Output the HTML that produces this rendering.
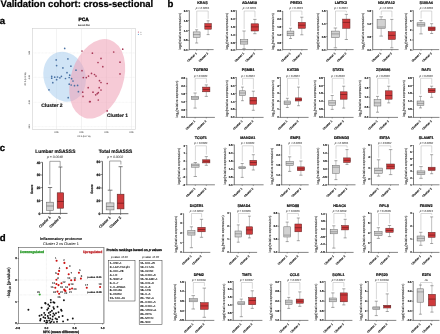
<!DOCTYPE html>
<html><head><meta charset="utf-8"><style>
html,body{margin:0;padding:0;background:#fff;width:440px;height:334px;overflow:hidden}
svg{display:block;will-change:transform}
text{font-family:"Liberation Sans", sans-serif;text-rendering:geometricPrecision}
</style></head><body>
<svg width="440" height="334" viewBox="0 0 440 334">
<rect width="440" height="334" fill="#fff"/>
<text x="0.6" y="7.1" font-size="9.5" text-anchor="start" font-weight="bold" font-style="normal" fill="#000" stroke="#000" stroke-width="0.22" >Validation cohort: cross-sectional</text>
<text x="-0.2" y="24.2" font-size="9.6" text-anchor="start" font-weight="bold" font-style="normal" fill="#000" stroke="#000" stroke-width="0.25" >a</text>
<text x="167.5" y="7.3" font-size="9.6" text-anchor="start" font-weight="bold" font-style="normal" fill="#000" stroke="#000" stroke-width="0.25" >b</text>
<text x="-0.2" y="150.8" font-size="9.6" text-anchor="start" font-weight="bold" font-style="normal" fill="#000" stroke="#000" stroke-width="0.25" >c</text>
<text x="-0.2" y="241" font-size="9.6" text-anchor="start" font-weight="bold" font-style="normal" fill="#000" stroke="#000" stroke-width="0.25" >d</text>
<text x="83.6" y="21.4" font-size="4.9" text-anchor="middle" font-weight="bold" font-style="normal" fill="#000" stroke="#000" stroke-width="0.3" >PCA</text>
<text x="83.8" y="26.1" font-size="2.3" text-anchor="middle" font-weight="normal" font-style="normal" fill="#333" stroke="#333" stroke-width="0.1" >Scores Plot</text>
<rect x="32.3" y="28.5" width="103" height="100.8" fill="#fff" stroke="#cfcfcf" stroke-width="0.6"/>
<line x1="56.5" y1="28.5" x2="56.5" y2="129.3" stroke="#e6e6e6" stroke-width="0.5" />
<line x1="81.5" y1="28.5" x2="81.5" y2="129.3" stroke="#e6e6e6" stroke-width="0.5" />
<line x1="106.5" y1="28.5" x2="106.5" y2="129.3" stroke="#e6e6e6" stroke-width="0.5" />
<line x1="131.5" y1="28.5" x2="131.5" y2="129.3" stroke="#e6e6e6" stroke-width="0.5" />
<line x1="32.3" y1="52.9" x2="135.3" y2="52.9" stroke="#e6e6e6" stroke-width="0.5" stroke-dasharray="0.8 0.6"/>
<line x1="32.3" y1="77.3" x2="135.3" y2="77.3" stroke="#e6e6e6" stroke-width="0.5" stroke-dasharray="0.8 0.6"/>
<line x1="32.3" y1="102.3" x2="135.3" y2="102.3" stroke="#e6e6e6" stroke-width="0.5" stroke-dasharray="0.8 0.6"/>
<line x1="32.3" y1="126.6" x2="135.3" y2="126.6" stroke="#e6e6e6" stroke-width="0.5" stroke-dasharray="0.8 0.6"/>
<ellipse cx="64.6" cy="76.7" rx="20.9" ry="25.4" transform="rotate(-17.8 64.6 76.7)" fill="#a9cdef" fill-opacity="0.55"/>
<ellipse cx="97.2" cy="78.8" rx="26.2" ry="41" transform="rotate(18.4 97.2 78.8)" fill="#ee9fb4" fill-opacity="0.55"/>
<circle cx="64.7" cy="48.4" r="0.85" fill="#4a72a4"/>
<circle cx="56.2" cy="59.9" r="0.85" fill="#4a72a4"/>
<circle cx="67.9" cy="58.9" r="0.85" fill="#4a72a4"/>
<circle cx="56.6" cy="65.6" r="0.85" fill="#4a72a4"/>
<circle cx="62.9" cy="67.9" r="0.85" fill="#4a72a4"/>
<circle cx="70.9" cy="66.2" r="0.85" fill="#4a72a4"/>
<circle cx="67" cy="72.7" r="0.85" fill="#4a72a4"/>
<circle cx="76" cy="70.2" r="0.85" fill="#4a72a4"/>
<circle cx="51.7" cy="76.3" r="0.85" fill="#4a72a4"/>
<circle cx="51.7" cy="78.2" r="0.85" fill="#4a72a4"/>
<circle cx="54.7" cy="77.2" r="0.85" fill="#4a72a4"/>
<circle cx="56.6" cy="79.7" r="0.85" fill="#4a72a4"/>
<circle cx="59.9" cy="77.8" r="0.85" fill="#4a72a4"/>
<circle cx="61.4" cy="76.3" r="0.85" fill="#4a72a4"/>
<circle cx="69.7" cy="75.2" r="0.85" fill="#4a72a4"/>
<circle cx="69.2" cy="77.5" r="0.85" fill="#4a72a4"/>
<circle cx="71.6" cy="78.7" r="0.85" fill="#4a72a4"/>
<circle cx="73" cy="81" r="0.85" fill="#4a72a4"/>
<circle cx="52.8" cy="82.7" r="0.85" fill="#4a72a4"/>
<circle cx="69.2" cy="84.2" r="0.85" fill="#4a72a4"/>
<circle cx="71.2" cy="85" r="0.85" fill="#4a72a4"/>
<circle cx="74.5" cy="85.7" r="0.85" fill="#4a72a4"/>
<circle cx="77.6" cy="85.4" r="0.85" fill="#4a72a4"/>
<circle cx="49" cy="89.8" r="0.85" fill="#4a72a4"/>
<circle cx="78.4" cy="91.7" r="0.85" fill="#4a72a4"/>
<circle cx="68.2" cy="97.7" r="0.85" fill="#4a72a4"/>
<circle cx="57.5" cy="77" r="0.85" fill="#4a72a4"/>
<circle cx="65.5" cy="78.5" r="0.85" fill="#4a72a4"/>
<circle cx="82" cy="51" r="0.85" fill="#a83a58"/>
<circle cx="92.4" cy="53.2" r="0.85" fill="#a83a58"/>
<circle cx="113.7" cy="52" r="0.85" fill="#a83a58"/>
<circle cx="122.7" cy="49.2" r="0.85" fill="#a83a58"/>
<circle cx="101" cy="58.4" r="0.85" fill="#a83a58"/>
<circle cx="98" cy="62.5" r="0.85" fill="#a83a58"/>
<circle cx="102.8" cy="66.7" r="0.85" fill="#a83a58"/>
<circle cx="120" cy="62.2" r="0.85" fill="#a83a58"/>
<circle cx="120" cy="73.9" r="0.85" fill="#a83a58"/>
<circle cx="82" cy="70.7" r="0.85" fill="#a83a58"/>
<circle cx="91.5" cy="73.4" r="0.85" fill="#a83a58"/>
<circle cx="94.5" cy="74.5" r="0.85" fill="#a83a58"/>
<circle cx="96" cy="76.1" r="0.85" fill="#a83a58"/>
<circle cx="88.5" cy="76.1" r="0.85" fill="#a83a58"/>
<circle cx="86.3" cy="77.6" r="0.85" fill="#a83a58"/>
<circle cx="83.3" cy="77.6" r="0.85" fill="#a83a58"/>
<circle cx="99.5" cy="80.7" r="0.85" fill="#a83a58"/>
<circle cx="101" cy="82.5" r="0.85" fill="#a83a58"/>
<circle cx="107.2" cy="83.5" r="0.85" fill="#a83a58"/>
<circle cx="88.2" cy="87.7" r="0.85" fill="#a83a58"/>
<circle cx="99.2" cy="87.7" r="0.85" fill="#a83a58"/>
<circle cx="101" cy="90" r="0.85" fill="#a83a58"/>
<circle cx="93" cy="92.2" r="0.85" fill="#a83a58"/>
<circle cx="95.7" cy="94.8" r="0.85" fill="#a83a58"/>
<circle cx="97.2" cy="93.7" r="0.85" fill="#a83a58"/>
<circle cx="98.3" cy="92.7" r="0.85" fill="#a83a58"/>
<circle cx="82.7" cy="92.2" r="0.85" fill="#a83a58"/>
<circle cx="83" cy="96.4" r="0.85" fill="#a83a58"/>
<circle cx="90.2" cy="101.6" r="0.85" fill="#a83a58"/>
<circle cx="98.3" cy="100" r="0.85" fill="#a83a58"/>
<circle cx="107.2" cy="110.9" r="0.85" fill="#a83a58"/>
<circle cx="89.6" cy="101.7" r="0.85" fill="#a83a58"/>
<text x="41.2" y="107.3" font-size="5" text-anchor="start" font-weight="bold" font-style="normal" fill="#111" stroke="#111" stroke-width="0.15" >Cluster 2</text>
<text x="107" y="116.9" font-size="4.9" text-anchor="start" font-weight="bold" font-style="normal" fill="#111" stroke="#111" stroke-width="0.15" >Cluster 1</text>
<text x="30.4" y="52.9" font-size="2" text-anchor="middle" font-weight="normal" font-style="normal" fill="#666" stroke="#666" stroke-width="0.08"  transform="rotate(-90 30.4 52.9)">0.00</text>
<text x="30.4" y="77.3" font-size="2" text-anchor="middle" font-weight="normal" font-style="normal" fill="#666" stroke="#666" stroke-width="0.08"  transform="rotate(-90 30.4 77.3)">0.00</text>
<text x="30.4" y="102.3" font-size="2" text-anchor="middle" font-weight="normal" font-style="normal" fill="#666" stroke="#666" stroke-width="0.08"  transform="rotate(-90 30.4 102.3)">0.00</text>
<text x="30.4" y="126.6" font-size="2" text-anchor="middle" font-weight="normal" font-style="normal" fill="#666" stroke="#666" stroke-width="0.08"  transform="rotate(-90 30.4 126.6)">0.00</text>
<text x="56.5" y="133.3" font-size="2" text-anchor="middle" font-weight="normal" font-style="normal" fill="#666" stroke="#666" stroke-width="0.08" >0.00</text>
<text x="81.5" y="133.3" font-size="2" text-anchor="middle" font-weight="normal" font-style="normal" fill="#666" stroke="#666" stroke-width="0.08" >0.00</text>
<text x="106.5" y="133.3" font-size="2" text-anchor="middle" font-weight="normal" font-style="normal" fill="#666" stroke="#666" stroke-width="0.08" >0.00</text>
<text x="131.5" y="133.3" font-size="2" text-anchor="middle" font-weight="normal" font-style="normal" fill="#666" stroke="#666" stroke-width="0.08" >0.00</text>
<text x="84" y="137.4" font-size="2.1" text-anchor="middle" font-weight="normal" font-style="normal" fill="#666" stroke="#666" stroke-width="0.08" >PC 1 (13.7 %)</text>
<text x="26.2" y="79" font-size="2.1" text-anchor="middle" font-weight="normal" font-style="normal" fill="#666" stroke="#666" stroke-width="0.08"  transform="rotate(-90 26.2 79)">PC 2 (10.2 %)</text>
<circle cx="138.4" cy="32.1" r="0.6" fill="#d06080"/>
<text x="140.5" y="32.8" font-size="1.6" text-anchor="start" font-weight="normal" font-style="normal" fill="#888" stroke="#888" stroke-width="0.13" >1</text>
<circle cx="138.4" cy="34.3" r="0.6" fill="#60a0d0"/>
<text x="140.5" y="35" font-size="1.6" text-anchor="start" font-weight="normal" font-style="normal" fill="#888" stroke="#888" stroke-width="0.13" >2</text>
<text x="202.4" y="4" font-size="3.7" text-anchor="middle" font-weight="bold" font-style="normal" fill="#111" stroke="#111" stroke-width="0.2" >KRAS</text>
<text x="180.78" y="31.35" font-size="3.45" text-anchor="middle" font-weight="normal" font-style="normal" fill="#333" stroke="#333" stroke-width="0.12"  transform="rotate(-90 180.78 31.35)">log<tspan font-size="2.45" dy="0.7">2</tspan><tspan dy="-0.7">(relative expression)</tspan></text>
<line x1="189.3" y1="10.4" x2="189.3" y2="49.9" stroke="#444" stroke-width="0.7" />
<line x1="189.3" y1="49.6" x2="213.6" y2="49.6" stroke="#666" stroke-width="0.8" />
<line x1="188" y1="10.7" x2="189.3" y2="10.7" stroke="#333" stroke-width="0.5" />
<text x="187.6" y="11.7" font-size="2.75" text-anchor="end" font-weight="bold" font-style="normal" fill="#222" stroke="#222" stroke-width="0.15" >2.0</text>
<line x1="188" y1="20.6" x2="189.3" y2="20.6" stroke="#333" stroke-width="0.5" />
<text x="187.6" y="21.6" font-size="2.75" text-anchor="end" font-weight="bold" font-style="normal" fill="#222" stroke="#222" stroke-width="0.15" >1.5</text>
<line x1="188" y1="30.5" x2="189.3" y2="30.5" stroke="#333" stroke-width="0.5" />
<text x="187.6" y="31.5" font-size="2.75" text-anchor="end" font-weight="bold" font-style="normal" fill="#222" stroke="#222" stroke-width="0.15" >1.0</text>
<line x1="188" y1="40.4" x2="189.3" y2="40.4" stroke="#333" stroke-width="0.5" />
<text x="187.6" y="41.4" font-size="2.75" text-anchor="end" font-weight="bold" font-style="normal" fill="#222" stroke="#222" stroke-width="0.15" >0.5</text>
<line x1="188" y1="50.1" x2="189.3" y2="50.1" stroke="#333" stroke-width="0.5" />
<text x="187.6" y="51.1" font-size="2.75" text-anchor="end" font-weight="bold" font-style="normal" fill="#222" stroke="#222" stroke-width="0.15" >0.0</text>
<polyline points="196.75,27.8 196.75,11 208.2,11 208.2,18.8" fill="none" stroke="#b0b0b0" stroke-width="0.5"/>
<text x="202.47" y="9.25" font-size="2.85" text-anchor="middle" font-weight="normal" font-style="italic" fill="#555" stroke="#555" stroke-width="0.08" >p < 0.0001</text>
<line x1="196.65" y1="29.8" x2="196.65" y2="31.9" stroke="#808080" stroke-width="0.5" />
<line x1="196.65" y1="37.3" x2="196.65" y2="43" stroke="#808080" stroke-width="0.5" />
<line x1="195.13" y1="29.8" x2="198.17" y2="29.8" stroke="#606060" stroke-width="0.55" />
<line x1="195.13" y1="43" x2="198.17" y2="43" stroke="#606060" stroke-width="0.55" />
<rect x="193.2" y="31.9" width="6.9" height="5.4" fill="#d2d2d2" stroke="#666" stroke-width="0.5"/>
<line x1="193.2" y1="34.6" x2="200.1" y2="34.6" stroke="#666" stroke-width="0.5" />
<line x1="196.65" y1="49.6" x2="196.65" y2="50.6" stroke="#333" stroke-width="0.5" />
<text x="197.05" y="53.6" font-size="2.9" text-anchor="end" font-weight="bold" font-style="normal" fill="#222" stroke="#222" stroke-width="0.1"  transform="rotate(-45 197.05 53.6)">Cluster 1</text>
<line x1="208.1" y1="20.8" x2="208.1" y2="23.5" stroke="#808080" stroke-width="0.5" />
<line x1="208.1" y1="29.2" x2="208.1" y2="34.6" stroke="#808080" stroke-width="0.5" />
<line x1="206.65" y1="20.8" x2="209.55" y2="20.8" stroke="#606060" stroke-width="0.55" />
<line x1="206.65" y1="34.6" x2="209.55" y2="34.6" stroke="#606060" stroke-width="0.55" />
<rect x="204.8" y="23.5" width="6.6" height="5.7" fill="#cf3a3c" stroke="#5a2424" stroke-width="0.5"/>
<line x1="204.8" y1="26.5" x2="211.4" y2="26.5" stroke="#4a1010" stroke-width="0.5" />
<line x1="208.1" y1="49.6" x2="208.1" y2="50.6" stroke="#333" stroke-width="0.5" />
<text x="208.5" y="53.6" font-size="2.9" text-anchor="end" font-weight="bold" font-style="normal" fill="#222" stroke="#222" stroke-width="0.1"  transform="rotate(-45 208.5 53.6)">Cluster 2</text>
<text x="249.55" y="4" font-size="3.7" text-anchor="middle" font-weight="bold" font-style="normal" fill="#111" stroke="#111" stroke-width="0.2" >ADAM19</text>
<text x="227.88" y="31.35" font-size="3.45" text-anchor="middle" font-weight="normal" font-style="normal" fill="#333" stroke="#333" stroke-width="0.12"  transform="rotate(-90 227.88 31.35)">log<tspan font-size="2.45" dy="0.7">2</tspan><tspan dy="-0.7">(relative expression)</tspan></text>
<line x1="236.4" y1="10.4" x2="236.4" y2="49.9" stroke="#444" stroke-width="0.7" />
<line x1="236.4" y1="49.6" x2="262.6" y2="49.6" stroke="#666" stroke-width="0.8" />
<line x1="235.1" y1="10.7" x2="236.4" y2="10.7" stroke="#333" stroke-width="0.5" />
<text x="234.7" y="11.7" font-size="2.75" text-anchor="end" font-weight="bold" font-style="normal" fill="#222" stroke="#222" stroke-width="0.15" >2.5</text>
<line x1="235.1" y1="18.8" x2="236.4" y2="18.8" stroke="#333" stroke-width="0.5" />
<text x="234.7" y="19.8" font-size="2.75" text-anchor="end" font-weight="bold" font-style="normal" fill="#222" stroke="#222" stroke-width="0.15" >2.0</text>
<line x1="235.1" y1="26.9" x2="236.4" y2="26.9" stroke="#333" stroke-width="0.5" />
<text x="234.7" y="27.9" font-size="2.75" text-anchor="end" font-weight="bold" font-style="normal" fill="#222" stroke="#222" stroke-width="0.15" >1.5</text>
<line x1="235.1" y1="35" x2="236.4" y2="35" stroke="#333" stroke-width="0.5" />
<text x="234.7" y="36" font-size="2.75" text-anchor="end" font-weight="bold" font-style="normal" fill="#222" stroke="#222" stroke-width="0.15" >1.0</text>
<line x1="235.1" y1="42.7" x2="236.4" y2="42.7" stroke="#333" stroke-width="0.5" />
<text x="234.7" y="43.7" font-size="2.75" text-anchor="end" font-weight="bold" font-style="normal" fill="#222" stroke="#222" stroke-width="0.15" >0.5</text>
<line x1="235.1" y1="50.1" x2="236.4" y2="50.1" stroke="#333" stroke-width="0.5" />
<text x="234.7" y="51.1" font-size="2.75" text-anchor="end" font-weight="bold" font-style="normal" fill="#222" stroke="#222" stroke-width="0.15" >0.0</text>
<polyline points="244.15,29 244.15,11 254.95,11 254.95,17.4" fill="none" stroke="#b0b0b0" stroke-width="0.5"/>
<text x="249.55" y="9.25" font-size="2.85" text-anchor="middle" font-weight="normal" font-style="italic" fill="#555" stroke="#555" stroke-width="0.08" >p < 0.0001</text>
<line x1="244.05" y1="31" x2="244.05" y2="39.6" stroke="#808080" stroke-width="0.5" />
<line x1="244.05" y1="44.1" x2="244.05" y2="48.6" stroke="#808080" stroke-width="0.5" />
<line x1="242.4" y1="31" x2="245.7" y2="31" stroke="#606060" stroke-width="0.55" />
<line x1="242.4" y1="48.6" x2="245.7" y2="48.6" stroke="#606060" stroke-width="0.55" />
<rect x="240.3" y="39.6" width="7.5" height="4.5" fill="#d2d2d2" stroke="#666" stroke-width="0.5"/>
<line x1="240.3" y1="41.8" x2="247.8" y2="41.8" stroke="#666" stroke-width="0.5" />
<line x1="244.05" y1="49.6" x2="244.05" y2="50.6" stroke="#333" stroke-width="0.5" />
<text x="244.45" y="53.6" font-size="2.9" text-anchor="end" font-weight="bold" font-style="normal" fill="#222" stroke="#222" stroke-width="0.1"  transform="rotate(-45 244.45 53.6)">Cluster 1</text>
<line x1="254.85" y1="19.4" x2="254.85" y2="23.8" stroke="#808080" stroke-width="0.5" />
<line x1="254.85" y1="31" x2="254.85" y2="33.7" stroke="#808080" stroke-width="0.5" />
<line x1="253.2" y1="19.4" x2="256.5" y2="19.4" stroke="#606060" stroke-width="0.55" />
<line x1="253.2" y1="33.7" x2="256.5" y2="33.7" stroke="#606060" stroke-width="0.55" />
<rect x="251.1" y="23.8" width="7.5" height="7.2" fill="#cf3a3c" stroke="#5a2424" stroke-width="0.5"/>
<line x1="251.1" y1="26.9" x2="258.6" y2="26.9" stroke="#4a1010" stroke-width="0.5" />
<line x1="254.85" y1="49.6" x2="254.85" y2="50.6" stroke="#333" stroke-width="0.5" />
<text x="255.25" y="53.6" font-size="2.9" text-anchor="end" font-weight="bold" font-style="normal" fill="#222" stroke="#222" stroke-width="0.1"  transform="rotate(-45 255.25 53.6)">Cluster 2</text>
<text x="296.35" y="4" font-size="3.7" text-anchor="middle" font-weight="bold" font-style="normal" fill="#111" stroke="#111" stroke-width="0.2" >PREX1</text>
<text x="274.18" y="31.65" font-size="3.45" text-anchor="middle" font-weight="normal" font-style="normal" fill="#333" stroke="#333" stroke-width="0.12"  transform="rotate(-90 274.18 31.65)">log<tspan font-size="2.45" dy="0.7">2</tspan><tspan dy="-0.7">(relative expression)</tspan></text>
<line x1="282.7" y1="11" x2="282.7" y2="49.9" stroke="#444" stroke-width="0.7" />
<line x1="282.7" y1="49.6" x2="307.7" y2="49.6" stroke="#666" stroke-width="0.8" />
<line x1="281.4" y1="11.3" x2="282.7" y2="11.3" stroke="#333" stroke-width="0.5" />
<text x="281" y="12.3" font-size="2.75" text-anchor="end" font-weight="bold" font-style="normal" fill="#222" stroke="#222" stroke-width="0.15" >2.5</text>
<line x1="281.4" y1="19.1" x2="282.7" y2="19.1" stroke="#333" stroke-width="0.5" />
<text x="281" y="20.1" font-size="2.75" text-anchor="end" font-weight="bold" font-style="normal" fill="#222" stroke="#222" stroke-width="0.15" >2.0</text>
<line x1="281.4" y1="26.8" x2="282.7" y2="26.8" stroke="#333" stroke-width="0.5" />
<text x="281" y="27.8" font-size="2.75" text-anchor="end" font-weight="bold" font-style="normal" fill="#222" stroke="#222" stroke-width="0.15" >1.5</text>
<line x1="281.4" y1="34.8" x2="282.7" y2="34.8" stroke="#333" stroke-width="0.5" />
<text x="281" y="35.8" font-size="2.75" text-anchor="end" font-weight="bold" font-style="normal" fill="#222" stroke="#222" stroke-width="0.15" >1.0</text>
<line x1="281.4" y1="42.8" x2="282.7" y2="42.8" stroke="#333" stroke-width="0.5" />
<text x="281" y="43.8" font-size="2.75" text-anchor="end" font-weight="bold" font-style="normal" fill="#222" stroke="#222" stroke-width="0.15" >0.5</text>
<line x1="281.4" y1="50.2" x2="282.7" y2="50.2" stroke="#333" stroke-width="0.5" />
<text x="281" y="51.2" font-size="2.75" text-anchor="end" font-weight="bold" font-style="normal" fill="#222" stroke="#222" stroke-width="0.15" >0.0</text>
<polyline points="290.6,26.3 290.6,11 301.9,11 301.9,15.2" fill="none" stroke="#b0b0b0" stroke-width="0.5"/>
<text x="296.25" y="9.25" font-size="2.85" text-anchor="middle" font-weight="normal" font-style="italic" fill="#555" stroke="#555" stroke-width="0.08" >p < 0.0001</text>
<line x1="290.5" y1="28.3" x2="290.5" y2="31.1" stroke="#808080" stroke-width="0.5" />
<line x1="290.5" y1="35.8" x2="290.5" y2="38.5" stroke="#808080" stroke-width="0.5" />
<line x1="289" y1="28.3" x2="292" y2="28.3" stroke="#606060" stroke-width="0.55" />
<line x1="289" y1="38.5" x2="292" y2="38.5" stroke="#606060" stroke-width="0.55" />
<rect x="287.1" y="31.1" width="6.8" height="4.7" fill="#d2d2d2" stroke="#666" stroke-width="0.5"/>
<line x1="287.1" y1="33.5" x2="293.9" y2="33.5" stroke="#666" stroke-width="0.5" />
<line x1="290.5" y1="49.6" x2="290.5" y2="50.6" stroke="#333" stroke-width="0.5" />
<text x="290.9" y="53.6" font-size="2.9" text-anchor="end" font-weight="bold" font-style="normal" fill="#222" stroke="#222" stroke-width="0.1"  transform="rotate(-45 290.9 53.6)">Cluster 1</text>
<line x1="301.8" y1="17.2" x2="301.8" y2="22.4" stroke="#808080" stroke-width="0.5" />
<line x1="301.8" y1="28.3" x2="301.8" y2="34.8" stroke="#808080" stroke-width="0.5" />
<line x1="300.22" y1="17.2" x2="303.38" y2="17.2" stroke="#606060" stroke-width="0.55" />
<line x1="300.22" y1="34.8" x2="303.38" y2="34.8" stroke="#606060" stroke-width="0.55" />
<rect x="298.2" y="22.4" width="7.2" height="5.9" fill="#cf3a3c" stroke="#5a2424" stroke-width="0.5"/>
<line x1="298.2" y1="25.2" x2="305.4" y2="25.2" stroke="#4a1010" stroke-width="0.5" />
<line x1="301.8" y1="49.6" x2="301.8" y2="50.6" stroke="#333" stroke-width="0.5" />
<text x="302.2" y="53.6" font-size="2.9" text-anchor="end" font-weight="bold" font-style="normal" fill="#222" stroke="#222" stroke-width="0.1"  transform="rotate(-45 302.2 53.6)">Cluster 2</text>
<text x="340.85" y="4" font-size="3.7" text-anchor="middle" font-weight="bold" font-style="normal" fill="#111" stroke="#111" stroke-width="0.2" >LMTK2</text>
<text x="318.78" y="31.35" font-size="3.45" text-anchor="middle" font-weight="normal" font-style="normal" fill="#333" stroke="#333" stroke-width="0.12"  transform="rotate(-90 318.78 31.35)">log<tspan font-size="2.45" dy="0.7">2</tspan><tspan dy="-0.7">(relative expression)</tspan></text>
<line x1="327.3" y1="10.4" x2="327.3" y2="49.9" stroke="#444" stroke-width="0.7" />
<line x1="327.3" y1="49.6" x2="353.6" y2="49.6" stroke="#666" stroke-width="0.8" />
<line x1="326" y1="10.7" x2="327.3" y2="10.7" stroke="#333" stroke-width="0.5" />
<text x="325.6" y="11.7" font-size="2.75" text-anchor="end" font-weight="bold" font-style="normal" fill="#222" stroke="#222" stroke-width="0.15" >1.5</text>
<line x1="326" y1="23.7" x2="327.3" y2="23.7" stroke="#333" stroke-width="0.5" />
<text x="325.6" y="24.7" font-size="2.75" text-anchor="end" font-weight="bold" font-style="normal" fill="#222" stroke="#222" stroke-width="0.15" >1.0</text>
<line x1="326" y1="36.7" x2="327.3" y2="36.7" stroke="#333" stroke-width="0.5" />
<text x="325.6" y="37.7" font-size="2.75" text-anchor="end" font-weight="bold" font-style="normal" fill="#222" stroke="#222" stroke-width="0.15" >0.5</text>
<line x1="326" y1="50.2" x2="327.3" y2="50.2" stroke="#333" stroke-width="0.5" />
<text x="325.6" y="51.2" font-size="2.75" text-anchor="end" font-weight="bold" font-style="normal" fill="#222" stroke="#222" stroke-width="0.15" >0.0</text>
<polyline points="335.5,26 335.5,11 346.45,11 346.45,12.4" fill="none" stroke="#b0b0b0" stroke-width="0.5"/>
<text x="340.98" y="9.25" font-size="2.85" text-anchor="middle" font-weight="normal" font-style="italic" fill="#555" stroke="#555" stroke-width="0.08" >p < 0.0001</text>
<line x1="335.4" y1="28" x2="335.4" y2="31.1" stroke="#808080" stroke-width="0.5" />
<line x1="335.4" y1="37.6" x2="335.4" y2="47.8" stroke="#808080" stroke-width="0.5" />
<line x1="333.68" y1="28" x2="337.12" y2="28" stroke="#606060" stroke-width="0.55" />
<line x1="333.68" y1="47.8" x2="337.12" y2="47.8" stroke="#606060" stroke-width="0.55" />
<rect x="331.5" y="31.1" width="7.8" height="6.5" fill="#d2d2d2" stroke="#666" stroke-width="0.5"/>
<line x1="331.5" y1="33.9" x2="339.3" y2="33.9" stroke="#666" stroke-width="0.5" />
<line x1="335.4" y1="49.6" x2="335.4" y2="50.6" stroke="#333" stroke-width="0.5" />
<text x="335.8" y="53.6" font-size="2.9" text-anchor="end" font-weight="bold" font-style="normal" fill="#222" stroke="#222" stroke-width="0.1"  transform="rotate(-45 335.8 53.6)">Cluster 1</text>
<line x1="346.35" y1="14.4" x2="346.35" y2="19.1" stroke="#808080" stroke-width="0.5" />
<line x1="346.35" y1="28.3" x2="346.35" y2="39.5" stroke="#808080" stroke-width="0.5" />
<line x1="344.74" y1="14.4" x2="347.96" y2="14.4" stroke="#606060" stroke-width="0.55" />
<line x1="344.74" y1="39.5" x2="347.96" y2="39.5" stroke="#606060" stroke-width="0.55" />
<rect x="342.7" y="19.1" width="7.3" height="9.2" fill="#cf3a3c" stroke="#5a2424" stroke-width="0.5"/>
<line x1="342.7" y1="22.4" x2="350" y2="22.4" stroke="#4a1010" stroke-width="0.5" />
<line x1="346.35" y1="49.6" x2="346.35" y2="50.6" stroke="#333" stroke-width="0.5" />
<text x="346.75" y="53.6" font-size="2.9" text-anchor="end" font-weight="bold" font-style="normal" fill="#222" stroke="#222" stroke-width="0.1"  transform="rotate(-45 346.75 53.6)">Cluster 2</text>
<text x="386.35" y="4" font-size="3.7" text-anchor="middle" font-weight="bold" font-style="normal" fill="#111" stroke="#111" stroke-width="0.2" >NDUFA12</text>
<text x="364.18" y="31.35" font-size="3.45" text-anchor="middle" font-weight="normal" font-style="normal" fill="#333" stroke="#333" stroke-width="0.12"  transform="rotate(-90 364.18 31.35)">log<tspan font-size="2.45" dy="0.7">2</tspan><tspan dy="-0.7">(relative expression)</tspan></text>
<line x1="372.7" y1="10.4" x2="372.7" y2="49.9" stroke="#444" stroke-width="0.7" />
<line x1="372.7" y1="49.6" x2="398.6" y2="49.6" stroke="#666" stroke-width="0.8" />
<line x1="371.4" y1="10.7" x2="372.7" y2="10.7" stroke="#333" stroke-width="0.5" />
<text x="371" y="11.7" font-size="2.75" text-anchor="end" font-weight="bold" font-style="normal" fill="#222" stroke="#222" stroke-width="0.15" >1.5</text>
<line x1="371.4" y1="23.7" x2="372.7" y2="23.7" stroke="#333" stroke-width="0.5" />
<text x="371" y="24.7" font-size="2.75" text-anchor="end" font-weight="bold" font-style="normal" fill="#222" stroke="#222" stroke-width="0.15" >1.0</text>
<line x1="371.4" y1="36.7" x2="372.7" y2="36.7" stroke="#333" stroke-width="0.5" />
<text x="371" y="37.7" font-size="2.75" text-anchor="end" font-weight="bold" font-style="normal" fill="#222" stroke="#222" stroke-width="0.15" >0.5</text>
<line x1="371.4" y1="50.2" x2="372.7" y2="50.2" stroke="#333" stroke-width="0.5" />
<text x="371" y="51.2" font-size="2.75" text-anchor="end" font-weight="bold" font-style="normal" fill="#222" stroke="#222" stroke-width="0.15" >0.0</text>
<polyline points="381.25,14.8 381.25,11 391.9,11 391.9,17.4" fill="none" stroke="#b0b0b0" stroke-width="0.5"/>
<text x="386.57" y="9.25" font-size="2.85" text-anchor="middle" font-weight="normal" font-style="italic" fill="#555" stroke="#555" stroke-width="0.08" >p < 0.0001</text>
<line x1="381.15" y1="16.8" x2="381.15" y2="19.6" stroke="#808080" stroke-width="0.5" />
<line x1="381.15" y1="28.3" x2="381.15" y2="36.1" stroke="#808080" stroke-width="0.5" />
<line x1="379.37" y1="16.8" x2="382.93" y2="16.8" stroke="#606060" stroke-width="0.55" />
<line x1="379.37" y1="36.1" x2="382.93" y2="36.1" stroke="#606060" stroke-width="0.55" />
<rect x="377.1" y="19.6" width="8.1" height="8.7" fill="#d2d2d2" stroke="#666" stroke-width="0.5"/>
<line x1="377.1" y1="27" x2="385.2" y2="27" stroke="#666" stroke-width="0.5" />
<line x1="381.15" y1="49.6" x2="381.15" y2="50.6" stroke="#333" stroke-width="0.5" />
<text x="381.55" y="53.6" font-size="2.9" text-anchor="end" font-weight="bold" font-style="normal" fill="#222" stroke="#222" stroke-width="0.1"  transform="rotate(-45 381.55 53.6)">Cluster 1</text>
<line x1="391.8" y1="19.4" x2="391.8" y2="31.7" stroke="#808080" stroke-width="0.5" />
<line x1="391.8" y1="39.5" x2="391.8" y2="47.8" stroke="#808080" stroke-width="0.5" />
<line x1="390.22" y1="19.4" x2="393.38" y2="19.4" stroke="#606060" stroke-width="0.55" />
<line x1="390.22" y1="47.8" x2="393.38" y2="47.8" stroke="#606060" stroke-width="0.55" />
<rect x="388.2" y="31.7" width="7.2" height="7.8" fill="#cf3a3c" stroke="#5a2424" stroke-width="0.5"/>
<line x1="388.2" y1="35.4" x2="395.4" y2="35.4" stroke="#4a1010" stroke-width="0.5" />
<line x1="391.8" y1="49.6" x2="391.8" y2="50.6" stroke="#333" stroke-width="0.5" />
<text x="392.2" y="53.6" font-size="2.9" text-anchor="end" font-weight="bold" font-style="normal" fill="#222" stroke="#222" stroke-width="0.1"  transform="rotate(-45 392.2 53.6)">Cluster 2</text>
<text x="426.2" y="4" font-size="3.7" text-anchor="middle" font-weight="bold" font-style="normal" fill="#111" stroke="#111" stroke-width="0.2" >S100A4</text>
<text x="407.07" y="31.35" font-size="3.45" text-anchor="middle" font-weight="normal" font-style="normal" fill="#333" stroke="#333" stroke-width="0.12"  transform="rotate(-90 407.07 31.35)">log<tspan font-size="2.45" dy="0.7">2</tspan><tspan dy="-0.7">(relative expression)</tspan></text>
<line x1="413.3" y1="10.4" x2="413.3" y2="49.9" stroke="#444" stroke-width="0.7" />
<line x1="413.3" y1="49.6" x2="439.2" y2="49.6" stroke="#666" stroke-width="0.8" />
<line x1="412" y1="10.7" x2="413.3" y2="10.7" stroke="#333" stroke-width="0.5" />
<text x="411.6" y="11.7" font-size="2.75" text-anchor="end" font-weight="bold" font-style="normal" fill="#222" stroke="#222" stroke-width="0.15" >4</text>
<line x1="412" y1="20.5" x2="413.3" y2="20.5" stroke="#333" stroke-width="0.5" />
<text x="411.6" y="21.5" font-size="2.75" text-anchor="end" font-weight="bold" font-style="normal" fill="#222" stroke="#222" stroke-width="0.15" >3</text>
<line x1="412" y1="30.2" x2="413.3" y2="30.2" stroke="#333" stroke-width="0.5" />
<text x="411.6" y="31.2" font-size="2.75" text-anchor="end" font-weight="bold" font-style="normal" fill="#222" stroke="#222" stroke-width="0.15" >2</text>
<line x1="412" y1="40" x2="413.3" y2="40" stroke="#333" stroke-width="0.5" />
<text x="411.6" y="41" font-size="2.75" text-anchor="end" font-weight="bold" font-style="normal" fill="#222" stroke="#222" stroke-width="0.15" >1</text>
<line x1="412" y1="50.2" x2="413.3" y2="50.2" stroke="#333" stroke-width="0.5" />
<text x="411.6" y="51.2" font-size="2.75" text-anchor="end" font-weight="bold" font-style="normal" fill="#222" stroke="#222" stroke-width="0.15" >0</text>
<polyline points="421.1,18.5 421.1,11 431.75,11 431.75,21.7" fill="none" stroke="#b0b0b0" stroke-width="0.5"/>
<text x="426.43" y="9.25" font-size="2.85" text-anchor="middle" font-weight="normal" font-style="italic" fill="#555" stroke="#555" stroke-width="0.08" >p < 0.0001</text>
<line x1="421" y1="20.5" x2="421" y2="22.8" stroke="#808080" stroke-width="0.5" />
<line x1="421" y1="26.1" x2="421" y2="33.9" stroke="#808080" stroke-width="0.5" />
<line x1="419.28" y1="20.5" x2="422.72" y2="20.5" stroke="#606060" stroke-width="0.55" />
<line x1="419.28" y1="33.9" x2="422.72" y2="33.9" stroke="#606060" stroke-width="0.55" />
<rect x="417.1" y="22.8" width="7.8" height="3.3" fill="#d2d2d2" stroke="#666" stroke-width="0.5"/>
<line x1="417.1" y1="24.6" x2="424.9" y2="24.6" stroke="#666" stroke-width="0.5" />
<line x1="421" y1="49.6" x2="421" y2="50.6" stroke="#333" stroke-width="0.5" />
<text x="421.4" y="53.6" font-size="2.9" text-anchor="end" font-weight="bold" font-style="normal" fill="#222" stroke="#222" stroke-width="0.1"  transform="rotate(-45 421.4 53.6)">Cluster 1</text>
<line x1="431.65" y1="23.7" x2="431.65" y2="27" stroke="#808080" stroke-width="0.5" />
<line x1="431.65" y1="30.7" x2="431.65" y2="33.5" stroke="#808080" stroke-width="0.5" />
<line x1="430.13" y1="23.7" x2="433.17" y2="23.7" stroke="#606060" stroke-width="0.55" />
<line x1="430.13" y1="33.5" x2="433.17" y2="33.5" stroke="#606060" stroke-width="0.55" />
<rect x="428.2" y="27" width="6.9" height="3.7" fill="#cf3a3c" stroke="#5a2424" stroke-width="0.5"/>
<line x1="428.2" y1="28.9" x2="435.1" y2="28.9" stroke="#4a1010" stroke-width="0.5" />
<line x1="431.65" y1="49.6" x2="431.65" y2="50.6" stroke="#333" stroke-width="0.5" />
<text x="432.05" y="53.6" font-size="2.9" text-anchor="end" font-weight="bold" font-style="normal" fill="#222" stroke="#222" stroke-width="0.1"  transform="rotate(-45 432.05 53.6)">Cluster 2</text>
<text x="200.8" y="71.3" font-size="3.7" text-anchor="middle" font-weight="bold" font-style="normal" fill="#111" stroke="#111" stroke-width="0.2" >TGFBR2</text>
<text x="178.28" y="99" font-size="3.45" text-anchor="middle" font-weight="normal" font-style="normal" fill="#333" stroke="#333" stroke-width="0.12"  transform="rotate(-90 178.28 99)">log<tspan font-size="2.45" dy="0.7">2</tspan><tspan dy="-0.7">(relative expression)</tspan></text>
<line x1="186.8" y1="77.9" x2="186.8" y2="117.7" stroke="#444" stroke-width="0.7" />
<line x1="186.8" y1="117.4" x2="214.9" y2="117.4" stroke="#666" stroke-width="0.8" />
<line x1="185.5" y1="78.2" x2="186.8" y2="78.2" stroke="#333" stroke-width="0.5" />
<text x="185.1" y="79.2" font-size="2.75" text-anchor="end" font-weight="bold" font-style="normal" fill="#222" stroke="#222" stroke-width="0.15" >2.5</text>
<line x1="185.5" y1="86.2" x2="186.8" y2="86.2" stroke="#333" stroke-width="0.5" />
<text x="185.1" y="87.2" font-size="2.75" text-anchor="end" font-weight="bold" font-style="normal" fill="#222" stroke="#222" stroke-width="0.15" >2.0</text>
<line x1="185.5" y1="93.6" x2="186.8" y2="93.6" stroke="#333" stroke-width="0.5" />
<text x="185.1" y="94.6" font-size="2.75" text-anchor="end" font-weight="bold" font-style="normal" fill="#222" stroke="#222" stroke-width="0.15" >1.5</text>
<line x1="185.5" y1="101.6" x2="186.8" y2="101.6" stroke="#333" stroke-width="0.5" />
<text x="185.1" y="102.6" font-size="2.75" text-anchor="end" font-weight="bold" font-style="normal" fill="#222" stroke="#222" stroke-width="0.15" >1.0</text>
<line x1="185.5" y1="109.8" x2="186.8" y2="109.8" stroke="#333" stroke-width="0.5" />
<text x="185.1" y="110.8" font-size="2.75" text-anchor="end" font-weight="bold" font-style="normal" fill="#222" stroke="#222" stroke-width="0.15" >0.5</text>
<line x1="185.5" y1="117.4" x2="186.8" y2="117.4" stroke="#333" stroke-width="0.5" />
<text x="185.1" y="118.4" font-size="2.75" text-anchor="end" font-weight="bold" font-style="normal" fill="#222" stroke="#222" stroke-width="0.15" >0.0</text>
<polyline points="195.2,91 195.2,78.3 206.4,78.3 206.4,82.9" fill="none" stroke="#b0b0b0" stroke-width="0.5"/>
<text x="200.8" y="76.55" font-size="2.85" text-anchor="middle" font-weight="normal" font-style="italic" fill="#555" stroke="#555" stroke-width="0.08" >p = 0.0001</text>
<line x1="195.1" y1="93" x2="195.1" y2="96.4" stroke="#808080" stroke-width="0.5" />
<line x1="195.1" y1="99.5" x2="195.1" y2="108.1" stroke="#808080" stroke-width="0.5" />
<line x1="193.52" y1="93" x2="196.68" y2="93" stroke="#606060" stroke-width="0.55" />
<line x1="193.52" y1="108.1" x2="196.68" y2="108.1" stroke="#606060" stroke-width="0.55" />
<rect x="191.5" y="96.4" width="7.2" height="3.1" fill="#d2d2d2" stroke="#666" stroke-width="0.5"/>
<line x1="191.5" y1="97.9" x2="198.7" y2="97.9" stroke="#666" stroke-width="0.5" />
<line x1="195.1" y1="117.4" x2="195.1" y2="118.4" stroke="#333" stroke-width="0.5" />
<text x="195.5" y="121.4" font-size="2.9" text-anchor="end" font-weight="bold" font-style="normal" fill="#222" stroke="#222" stroke-width="0.1"  transform="rotate(-45 195.5 121.4)">Cluster 1</text>
<line x1="206.3" y1="84.9" x2="206.3" y2="87.1" stroke="#808080" stroke-width="0.5" />
<line x1="206.3" y1="91.8" x2="206.3" y2="96.4" stroke="#808080" stroke-width="0.5" />
<line x1="204.72" y1="84.9" x2="207.88" y2="84.9" stroke="#606060" stroke-width="0.55" />
<line x1="204.72" y1="96.4" x2="207.88" y2="96.4" stroke="#606060" stroke-width="0.55" />
<rect x="202.7" y="87.1" width="7.2" height="4.7" fill="#cf3a3c" stroke="#5a2424" stroke-width="0.5"/>
<line x1="202.7" y1="89.5" x2="209.9" y2="89.5" stroke="#4a1010" stroke-width="0.5" />
<line x1="206.3" y1="117.4" x2="206.3" y2="118.4" stroke="#333" stroke-width="0.5" />
<text x="206.7" y="121.4" font-size="2.9" text-anchor="end" font-weight="bold" font-style="normal" fill="#222" stroke="#222" stroke-width="0.1"  transform="rotate(-45 206.7 121.4)">Cluster 2</text>
<text x="248.1" y="71.3" font-size="3.7" text-anchor="middle" font-weight="bold" font-style="normal" fill="#111" stroke="#111" stroke-width="0.2" >PSMB1</text>
<text x="227.78" y="98.65" font-size="3.45" text-anchor="middle" font-weight="normal" font-style="normal" fill="#333" stroke="#333" stroke-width="0.12"  transform="rotate(-90 227.78 98.65)">log<tspan font-size="2.45" dy="0.7">2</tspan><tspan dy="-0.7">(relative expression)</tspan></text>
<line x1="236.3" y1="77.2" x2="236.3" y2="117.7" stroke="#444" stroke-width="0.7" />
<line x1="236.3" y1="117.4" x2="263.6" y2="117.4" stroke="#666" stroke-width="0.8" />
<line x1="235" y1="77.5" x2="236.3" y2="77.5" stroke="#333" stroke-width="0.5" />
<text x="234.6" y="78.5" font-size="2.75" text-anchor="end" font-weight="bold" font-style="normal" fill="#222" stroke="#222" stroke-width="0.15" >2.5</text>
<line x1="235" y1="85.6" x2="236.3" y2="85.6" stroke="#333" stroke-width="0.5" />
<text x="234.6" y="86.6" font-size="2.75" text-anchor="end" font-weight="bold" font-style="normal" fill="#222" stroke="#222" stroke-width="0.15" >2.0</text>
<line x1="235" y1="93.6" x2="236.3" y2="93.6" stroke="#333" stroke-width="0.5" />
<text x="234.6" y="94.6" font-size="2.75" text-anchor="end" font-weight="bold" font-style="normal" fill="#222" stroke="#222" stroke-width="0.15" >1.5</text>
<line x1="235" y1="101.6" x2="236.3" y2="101.6" stroke="#333" stroke-width="0.5" />
<text x="234.6" y="102.6" font-size="2.75" text-anchor="end" font-weight="bold" font-style="normal" fill="#222" stroke="#222" stroke-width="0.15" >1.0</text>
<line x1="235" y1="109.4" x2="236.3" y2="109.4" stroke="#333" stroke-width="0.5" />
<text x="234.6" y="110.4" font-size="2.75" text-anchor="end" font-weight="bold" font-style="normal" fill="#222" stroke="#222" stroke-width="0.15" >0.5</text>
<line x1="235" y1="117.4" x2="236.3" y2="117.4" stroke="#333" stroke-width="0.5" />
<text x="234.6" y="118.4" font-size="2.75" text-anchor="end" font-weight="bold" font-style="normal" fill="#222" stroke="#222" stroke-width="0.15" >0.0</text>
<polyline points="242.55,85.1 242.55,78.3 253.4,78.3 253.4,89.2" fill="none" stroke="#b0b0b0" stroke-width="0.5"/>
<text x="247.98" y="76.55" font-size="2.85" text-anchor="middle" font-weight="normal" font-style="italic" fill="#555" stroke="#555" stroke-width="0.08" >p < 0.0001</text>
<line x1="242.45" y1="87.1" x2="242.45" y2="90.8" stroke="#808080" stroke-width="0.5" />
<line x1="242.45" y1="95.5" x2="242.45" y2="100.7" stroke="#808080" stroke-width="0.5" />
<line x1="241.06" y1="87.1" x2="243.84" y2="87.1" stroke="#606060" stroke-width="0.55" />
<line x1="241.06" y1="100.7" x2="243.84" y2="100.7" stroke="#606060" stroke-width="0.55" />
<rect x="239.3" y="90.8" width="6.3" height="4.7" fill="#d2d2d2" stroke="#666" stroke-width="0.5"/>
<line x1="239.3" y1="93" x2="245.6" y2="93" stroke="#666" stroke-width="0.5" />
<line x1="242.45" y1="117.4" x2="242.45" y2="118.4" stroke="#333" stroke-width="0.5" />
<text x="242.85" y="121.4" font-size="2.9" text-anchor="end" font-weight="bold" font-style="normal" fill="#222" stroke="#222" stroke-width="0.1"  transform="rotate(-45 242.85 121.4)">Cluster 1</text>
<line x1="253.3" y1="91.2" x2="253.3" y2="97.3" stroke="#808080" stroke-width="0.5" />
<line x1="253.3" y1="104.2" x2="253.3" y2="110.3" stroke="#808080" stroke-width="0.5" />
<line x1="251.8" y1="91.2" x2="254.8" y2="91.2" stroke="#606060" stroke-width="0.55" />
<line x1="251.8" y1="110.3" x2="254.8" y2="110.3" stroke="#606060" stroke-width="0.55" />
<rect x="249.9" y="97.3" width="6.8" height="6.9" fill="#cf3a3c" stroke="#5a2424" stroke-width="0.5"/>
<line x1="249.9" y1="100.7" x2="256.7" y2="100.7" stroke="#4a1010" stroke-width="0.5" />
<line x1="253.3" y1="117.4" x2="253.3" y2="118.4" stroke="#333" stroke-width="0.5" />
<text x="253.7" y="121.4" font-size="2.9" text-anchor="end" font-weight="bold" font-style="normal" fill="#222" stroke="#222" stroke-width="0.1"  transform="rotate(-45 253.7 121.4)">Cluster 2</text>
<text x="293" y="71.3" font-size="3.7" text-anchor="middle" font-weight="bold" font-style="normal" fill="#111" stroke="#111" stroke-width="0.2" >KAT2B</text>
<text x="274.17" y="98.65" font-size="3.45" text-anchor="middle" font-weight="normal" font-style="normal" fill="#333" stroke="#333" stroke-width="0.12"  transform="rotate(-90 274.17 98.65)">log<tspan font-size="2.45" dy="0.7">2</tspan><tspan dy="-0.7">(relative expression)</tspan></text>
<line x1="280.4" y1="77.2" x2="280.4" y2="117.7" stroke="#444" stroke-width="0.7" />
<line x1="280.4" y1="117.4" x2="308.6" y2="117.4" stroke="#666" stroke-width="0.8" />
<line x1="279.1" y1="77.5" x2="280.4" y2="77.5" stroke="#333" stroke-width="0.5" />
<text x="278.7" y="78.5" font-size="2.75" text-anchor="end" font-weight="bold" font-style="normal" fill="#222" stroke="#222" stroke-width="0.15" >5</text>
<line x1="279.1" y1="85.5" x2="280.4" y2="85.5" stroke="#333" stroke-width="0.5" />
<text x="278.7" y="86.5" font-size="2.75" text-anchor="end" font-weight="bold" font-style="normal" fill="#222" stroke="#222" stroke-width="0.15" >4</text>
<line x1="279.1" y1="93.4" x2="280.4" y2="93.4" stroke="#333" stroke-width="0.5" />
<text x="278.7" y="94.4" font-size="2.75" text-anchor="end" font-weight="bold" font-style="normal" fill="#222" stroke="#222" stroke-width="0.15" >3</text>
<line x1="279.1" y1="101.4" x2="280.4" y2="101.4" stroke="#333" stroke-width="0.5" />
<text x="278.7" y="102.4" font-size="2.75" text-anchor="end" font-weight="bold" font-style="normal" fill="#222" stroke="#222" stroke-width="0.15" >2</text>
<line x1="279.1" y1="109.4" x2="280.4" y2="109.4" stroke="#333" stroke-width="0.5" />
<text x="278.7" y="110.4" font-size="2.75" text-anchor="end" font-weight="bold" font-style="normal" fill="#222" stroke="#222" stroke-width="0.15" >1</text>
<line x1="279.1" y1="117.4" x2="280.4" y2="117.4" stroke="#333" stroke-width="0.5" />
<text x="278.7" y="118.4" font-size="2.75" text-anchor="end" font-weight="bold" font-style="normal" fill="#222" stroke="#222" stroke-width="0.15" >0</text>
<polyline points="287.45,96.3 287.45,78.3 298.6,78.3 298.6,85.1" fill="none" stroke="#b0b0b0" stroke-width="0.5"/>
<text x="293.02" y="76.55" font-size="2.85" text-anchor="middle" font-weight="normal" font-style="italic" fill="#555" stroke="#555" stroke-width="0.08" >p < 0.0001</text>
<line x1="287.35" y1="98.3" x2="287.35" y2="101" stroke="#808080" stroke-width="0.5" />
<line x1="287.35" y1="104.7" x2="287.35" y2="107.5" stroke="#808080" stroke-width="0.5" />
<line x1="285.92" y1="98.3" x2="288.78" y2="98.3" stroke="#606060" stroke-width="0.55" />
<line x1="285.92" y1="107.5" x2="288.78" y2="107.5" stroke="#606060" stroke-width="0.55" />
<rect x="284.1" y="101" width="6.5" height="3.7" fill="#d2d2d2" stroke="#666" stroke-width="0.5"/>
<line x1="284.1" y1="102.9" x2="290.6" y2="102.9" stroke="#666" stroke-width="0.5" />
<line x1="287.35" y1="117.4" x2="287.35" y2="118.4" stroke="#333" stroke-width="0.5" />
<text x="287.75" y="121.4" font-size="2.9" text-anchor="end" font-weight="bold" font-style="normal" fill="#222" stroke="#222" stroke-width="0.1"  transform="rotate(-45 287.75 121.4)">Cluster 1</text>
<line x1="298.5" y1="87.1" x2="298.5" y2="97.9" stroke="#808080" stroke-width="0.5" />
<line x1="298.5" y1="101" x2="298.5" y2="105.7" stroke="#808080" stroke-width="0.5" />
<line x1="297.09" y1="87.1" x2="299.91" y2="87.1" stroke="#606060" stroke-width="0.55" />
<line x1="297.09" y1="105.7" x2="299.91" y2="105.7" stroke="#606060" stroke-width="0.55" />
<rect x="295.3" y="97.9" width="6.4" height="3.1" fill="#cf3a3c" stroke="#5a2424" stroke-width="0.5"/>
<line x1="295.3" y1="99.5" x2="301.7" y2="99.5" stroke="#4a1010" stroke-width="0.5" />
<line x1="298.5" y1="117.4" x2="298.5" y2="118.4" stroke="#333" stroke-width="0.5" />
<text x="298.9" y="121.4" font-size="2.9" text-anchor="end" font-weight="bold" font-style="normal" fill="#222" stroke="#222" stroke-width="0.1"  transform="rotate(-45 298.9 121.4)">Cluster 2</text>
<text x="338.05" y="71.3" font-size="3.7" text-anchor="middle" font-weight="bold" font-style="normal" fill="#111" stroke="#111" stroke-width="0.2" >STAT4</text>
<text x="315.98" y="98.65" font-size="3.45" text-anchor="middle" font-weight="normal" font-style="normal" fill="#333" stroke="#333" stroke-width="0.12"  transform="rotate(-90 315.98 98.65)">log<tspan font-size="2.45" dy="0.7">2</tspan><tspan dy="-0.7">(relative expression)</tspan></text>
<line x1="324.5" y1="77.2" x2="324.5" y2="117.7" stroke="#444" stroke-width="0.7" />
<line x1="324.5" y1="117.4" x2="353.6" y2="117.4" stroke="#666" stroke-width="0.8" />
<line x1="323.2" y1="77.5" x2="324.5" y2="77.5" stroke="#333" stroke-width="0.5" />
<text x="322.8" y="78.5" font-size="2.75" text-anchor="end" font-weight="bold" font-style="normal" fill="#222" stroke="#222" stroke-width="0.15" >2.5</text>
<line x1="323.2" y1="85.5" x2="324.5" y2="85.5" stroke="#333" stroke-width="0.5" />
<text x="322.8" y="86.5" font-size="2.75" text-anchor="end" font-weight="bold" font-style="normal" fill="#222" stroke="#222" stroke-width="0.15" >2.0</text>
<line x1="323.2" y1="93.4" x2="324.5" y2="93.4" stroke="#333" stroke-width="0.5" />
<text x="322.8" y="94.4" font-size="2.75" text-anchor="end" font-weight="bold" font-style="normal" fill="#222" stroke="#222" stroke-width="0.15" >1.5</text>
<line x1="323.2" y1="101.4" x2="324.5" y2="101.4" stroke="#333" stroke-width="0.5" />
<text x="322.8" y="102.4" font-size="2.75" text-anchor="end" font-weight="bold" font-style="normal" fill="#222" stroke="#222" stroke-width="0.15" >1.0</text>
<line x1="323.2" y1="109.4" x2="324.5" y2="109.4" stroke="#333" stroke-width="0.5" />
<text x="322.8" y="110.4" font-size="2.75" text-anchor="end" font-weight="bold" font-style="normal" fill="#222" stroke="#222" stroke-width="0.15" >0.5</text>
<line x1="323.2" y1="117.4" x2="324.5" y2="117.4" stroke="#333" stroke-width="0.5" />
<text x="322.8" y="118.4" font-size="2.75" text-anchor="end" font-weight="bold" font-style="normal" fill="#222" stroke="#222" stroke-width="0.15" >0.0</text>
<polyline points="332.3,93.5 332.3,78.3 343.8,78.3 343.8,84.2" fill="none" stroke="#b0b0b0" stroke-width="0.5"/>
<text x="338.05" y="76.55" font-size="2.85" text-anchor="middle" font-weight="normal" font-style="italic" fill="#555" stroke="#555" stroke-width="0.08" >p < 0.0001</text>
<line x1="332.2" y1="95.5" x2="332.2" y2="100.7" stroke="#808080" stroke-width="0.5" />
<line x1="332.2" y1="105.3" x2="332.2" y2="109.4" stroke="#808080" stroke-width="0.5" />
<line x1="330.7" y1="95.5" x2="333.7" y2="95.5" stroke="#606060" stroke-width="0.55" />
<line x1="330.7" y1="109.4" x2="333.7" y2="109.4" stroke="#606060" stroke-width="0.55" />
<rect x="328.8" y="100.7" width="6.8" height="4.6" fill="#d2d2d2" stroke="#666" stroke-width="0.5"/>
<line x1="328.8" y1="102.9" x2="335.6" y2="102.9" stroke="#666" stroke-width="0.5" />
<line x1="332.2" y1="117.4" x2="332.2" y2="118.4" stroke="#333" stroke-width="0.5" />
<text x="332.6" y="121.4" font-size="2.9" text-anchor="end" font-weight="bold" font-style="normal" fill="#222" stroke="#222" stroke-width="0.1"  transform="rotate(-45 332.6 121.4)">Cluster 1</text>
<line x1="343.7" y1="86.2" x2="343.7" y2="91.8" stroke="#808080" stroke-width="0.5" />
<line x1="343.7" y1="99.2" x2="343.7" y2="108.1" stroke="#808080" stroke-width="0.5" />
<line x1="342.2" y1="86.2" x2="345.2" y2="86.2" stroke="#606060" stroke-width="0.55" />
<line x1="342.2" y1="108.1" x2="345.2" y2="108.1" stroke="#606060" stroke-width="0.55" />
<rect x="340.3" y="91.8" width="6.8" height="7.4" fill="#cf3a3c" stroke="#5a2424" stroke-width="0.5"/>
<line x1="340.3" y1="94.5" x2="347.1" y2="94.5" stroke="#4a1010" stroke-width="0.5" />
<line x1="343.7" y1="117.4" x2="343.7" y2="118.4" stroke="#333" stroke-width="0.5" />
<text x="344.1" y="121.4" font-size="2.9" text-anchor="end" font-weight="bold" font-style="normal" fill="#222" stroke="#222" stroke-width="0.1"  transform="rotate(-45 344.1 121.4)">Cluster 2</text>
<text x="383.2" y="71.3" font-size="3.7" text-anchor="middle" font-weight="bold" font-style="normal" fill="#111" stroke="#111" stroke-width="0.2" >ZSWIM6</text>
<text x="361.48" y="98.65" font-size="3.45" text-anchor="middle" font-weight="normal" font-style="normal" fill="#333" stroke="#333" stroke-width="0.12"  transform="rotate(-90 361.48 98.65)">log<tspan font-size="2.45" dy="0.7">2</tspan><tspan dy="-0.7">(relative expression)</tspan></text>
<line x1="370" y1="77.2" x2="370" y2="117.7" stroke="#444" stroke-width="0.7" />
<line x1="370" y1="117.4" x2="398" y2="117.4" stroke="#666" stroke-width="0.8" />
<line x1="368.7" y1="77.5" x2="370" y2="77.5" stroke="#333" stroke-width="0.5" />
<text x="368.3" y="78.5" font-size="2.75" text-anchor="end" font-weight="bold" font-style="normal" fill="#222" stroke="#222" stroke-width="0.15" >2.0</text>
<line x1="368.7" y1="87.5" x2="370" y2="87.5" stroke="#333" stroke-width="0.5" />
<text x="368.3" y="88.5" font-size="2.75" text-anchor="end" font-weight="bold" font-style="normal" fill="#222" stroke="#222" stroke-width="0.15" >1.5</text>
<line x1="368.7" y1="97.3" x2="370" y2="97.3" stroke="#333" stroke-width="0.5" />
<text x="368.3" y="98.3" font-size="2.75" text-anchor="end" font-weight="bold" font-style="normal" fill="#222" stroke="#222" stroke-width="0.15" >1.0</text>
<line x1="368.7" y1="107.2" x2="370" y2="107.2" stroke="#333" stroke-width="0.5" />
<text x="368.3" y="108.2" font-size="2.75" text-anchor="end" font-weight="bold" font-style="normal" fill="#222" stroke="#222" stroke-width="0.15" >0.5</text>
<line x1="368.7" y1="117.4" x2="370" y2="117.4" stroke="#333" stroke-width="0.5" />
<text x="368.3" y="118.4" font-size="2.75" text-anchor="end" font-weight="bold" font-style="normal" fill="#222" stroke="#222" stroke-width="0.15" >0.0</text>
<polyline points="377.6,94.4 377.6,78.3 388.8,78.3 388.8,84.2" fill="none" stroke="#b0b0b0" stroke-width="0.5"/>
<text x="383.2" y="76.55" font-size="2.85" text-anchor="middle" font-weight="normal" font-style="italic" fill="#555" stroke="#555" stroke-width="0.08" >p < 0.0001</text>
<line x1="377.5" y1="96.4" x2="377.5" y2="99.7" stroke="#808080" stroke-width="0.5" />
<line x1="377.5" y1="106" x2="377.5" y2="112.2" stroke="#808080" stroke-width="0.5" />
<line x1="376" y1="96.4" x2="379" y2="96.4" stroke="#606060" stroke-width="0.55" />
<line x1="376" y1="112.2" x2="379" y2="112.2" stroke="#606060" stroke-width="0.55" />
<rect x="374.1" y="99.7" width="6.8" height="6.3" fill="#d2d2d2" stroke="#666" stroke-width="0.5"/>
<line x1="374.1" y1="102.9" x2="380.9" y2="102.9" stroke="#666" stroke-width="0.5" />
<line x1="377.5" y1="117.4" x2="377.5" y2="118.4" stroke="#333" stroke-width="0.5" />
<text x="377.9" y="121.4" font-size="2.9" text-anchor="end" font-weight="bold" font-style="normal" fill="#222" stroke="#222" stroke-width="0.1"  transform="rotate(-45 377.9 121.4)">Cluster 1</text>
<line x1="388.7" y1="86.2" x2="388.7" y2="90.8" stroke="#808080" stroke-width="0.5" />
<line x1="388.7" y1="99.2" x2="388.7" y2="102.9" stroke="#808080" stroke-width="0.5" />
<line x1="387.2" y1="86.2" x2="390.2" y2="86.2" stroke="#606060" stroke-width="0.55" />
<line x1="387.2" y1="102.9" x2="390.2" y2="102.9" stroke="#606060" stroke-width="0.55" />
<rect x="385.3" y="90.8" width="6.8" height="8.4" fill="#cf3a3c" stroke="#5a2424" stroke-width="0.5"/>
<line x1="385.3" y1="95.5" x2="392.1" y2="95.5" stroke="#4a1010" stroke-width="0.5" />
<line x1="388.7" y1="117.4" x2="388.7" y2="118.4" stroke="#333" stroke-width="0.5" />
<text x="389.1" y="121.4" font-size="2.9" text-anchor="end" font-weight="bold" font-style="normal" fill="#222" stroke="#222" stroke-width="0.1"  transform="rotate(-45 389.1 121.4)">Cluster 2</text>
<text x="426.2" y="71.3" font-size="3.7" text-anchor="middle" font-weight="bold" font-style="normal" fill="#111" stroke="#111" stroke-width="0.2" >RAF1</text>
<text x="404.98" y="98.65" font-size="3.45" text-anchor="middle" font-weight="normal" font-style="normal" fill="#333" stroke="#333" stroke-width="0.12"  transform="rotate(-90 404.98 98.65)">log<tspan font-size="2.45" dy="0.7">2</tspan><tspan dy="-0.7">(relative expression)</tspan></text>
<line x1="413.5" y1="77.2" x2="413.5" y2="117.7" stroke="#444" stroke-width="0.7" />
<line x1="413.5" y1="117.4" x2="439.5" y2="117.4" stroke="#666" stroke-width="0.8" />
<line x1="412.2" y1="77.5" x2="413.5" y2="77.5" stroke="#333" stroke-width="0.5" />
<text x="411.8" y="78.5" font-size="2.75" text-anchor="end" font-weight="bold" font-style="normal" fill="#222" stroke="#222" stroke-width="0.15" >2.5</text>
<line x1="412.2" y1="85.5" x2="413.5" y2="85.5" stroke="#333" stroke-width="0.5" />
<text x="411.8" y="86.5" font-size="2.75" text-anchor="end" font-weight="bold" font-style="normal" fill="#222" stroke="#222" stroke-width="0.15" >2.0</text>
<line x1="412.2" y1="93.4" x2="413.5" y2="93.4" stroke="#333" stroke-width="0.5" />
<text x="411.8" y="94.4" font-size="2.75" text-anchor="end" font-weight="bold" font-style="normal" fill="#222" stroke="#222" stroke-width="0.15" >1.5</text>
<line x1="412.2" y1="101.4" x2="413.5" y2="101.4" stroke="#333" stroke-width="0.5" />
<text x="411.8" y="102.4" font-size="2.75" text-anchor="end" font-weight="bold" font-style="normal" fill="#222" stroke="#222" stroke-width="0.15" >1.0</text>
<line x1="412.2" y1="109.4" x2="413.5" y2="109.4" stroke="#333" stroke-width="0.5" />
<text x="411.8" y="110.4" font-size="2.75" text-anchor="end" font-weight="bold" font-style="normal" fill="#222" stroke="#222" stroke-width="0.15" >0.5</text>
<line x1="412.2" y1="117.4" x2="413.5" y2="117.4" stroke="#333" stroke-width="0.5" />
<text x="411.8" y="118.4" font-size="2.75" text-anchor="end" font-weight="bold" font-style="normal" fill="#222" stroke="#222" stroke-width="0.15" >0.0</text>
<polyline points="420.6,94.4 420.6,78.3 431.75,78.3 431.75,84.2" fill="none" stroke="#b0b0b0" stroke-width="0.5"/>
<text x="426.18" y="76.55" font-size="2.85" text-anchor="middle" font-weight="normal" font-style="italic" fill="#555" stroke="#555" stroke-width="0.08" >p < 0.0001</text>
<line x1="420.5" y1="96.4" x2="420.5" y2="101" stroke="#808080" stroke-width="0.5" />
<line x1="420.5" y1="105.3" x2="420.5" y2="107.9" stroke="#808080" stroke-width="0.5" />
<line x1="419" y1="96.4" x2="422" y2="96.4" stroke="#606060" stroke-width="0.55" />
<line x1="419" y1="107.9" x2="422" y2="107.9" stroke="#606060" stroke-width="0.55" />
<rect x="417.1" y="101" width="6.8" height="4.3" fill="#d2d2d2" stroke="#666" stroke-width="0.5"/>
<line x1="417.1" y1="103.4" x2="423.9" y2="103.4" stroke="#666" stroke-width="0.5" />
<line x1="420.5" y1="117.4" x2="420.5" y2="118.4" stroke="#333" stroke-width="0.5" />
<text x="420.9" y="121.4" font-size="2.9" text-anchor="end" font-weight="bold" font-style="normal" fill="#222" stroke="#222" stroke-width="0.1"  transform="rotate(-45 420.9 121.4)">Cluster 1</text>
<line x1="431.65" y1="86.2" x2="431.65" y2="88.6" stroke="#808080" stroke-width="0.5" />
<line x1="431.65" y1="92.7" x2="431.65" y2="97.3" stroke="#808080" stroke-width="0.5" />
<line x1="430.13" y1="86.2" x2="433.17" y2="86.2" stroke="#606060" stroke-width="0.55" />
<line x1="430.13" y1="97.3" x2="433.17" y2="97.3" stroke="#606060" stroke-width="0.55" />
<rect x="428.2" y="88.6" width="6.9" height="4.1" fill="#cf3a3c" stroke="#5a2424" stroke-width="0.5"/>
<line x1="428.2" y1="90.5" x2="435.1" y2="90.5" stroke="#4a1010" stroke-width="0.5" />
<line x1="431.65" y1="117.4" x2="431.65" y2="118.4" stroke="#333" stroke-width="0.5" />
<text x="432.05" y="121.4" font-size="2.9" text-anchor="end" font-weight="bold" font-style="normal" fill="#222" stroke="#222" stroke-width="0.1"  transform="rotate(-45 432.05 121.4)">Cluster 2</text>
<text x="200.8" y="138.8" font-size="3.7" text-anchor="middle" font-weight="bold" font-style="normal" fill="#111" stroke="#111" stroke-width="0.2" >TCOF1</text>
<text x="179.66" y="166.35" font-size="3.45" text-anchor="middle" font-weight="normal" font-style="normal" fill="#333" stroke="#333" stroke-width="0.12"  transform="rotate(-90 179.66 166.35)">log<tspan font-size="2.45" dy="0.7">2</tspan><tspan dy="-0.7">(relative expression)</tspan></text>
<line x1="186.8" y1="145.2" x2="186.8" y2="185.1" stroke="#444" stroke-width="0.7" />
<line x1="186.8" y1="184.8" x2="214.9" y2="184.8" stroke="#666" stroke-width="0.8" />
<line x1="185.5" y1="145.5" x2="186.8" y2="145.5" stroke="#333" stroke-width="0.5" />
<text x="185.1" y="146.5" font-size="2.75" text-anchor="end" font-weight="bold" font-style="normal" fill="#222" stroke="#222" stroke-width="0.15" >2</text>
<line x1="185.5" y1="153.3" x2="186.8" y2="153.3" stroke="#333" stroke-width="0.5" />
<text x="185.1" y="154.3" font-size="2.75" text-anchor="end" font-weight="bold" font-style="normal" fill="#222" stroke="#222" stroke-width="0.15" >1</text>
<line x1="185.5" y1="161.2" x2="186.8" y2="161.2" stroke="#333" stroke-width="0.5" />
<text x="185.1" y="162.2" font-size="2.75" text-anchor="end" font-weight="bold" font-style="normal" fill="#222" stroke="#222" stroke-width="0.15" >0</text>
<line x1="185.5" y1="169" x2="186.8" y2="169" stroke="#333" stroke-width="0.5" />
<text x="185.1" y="170" font-size="2.75" text-anchor="end" font-weight="bold" font-style="normal" fill="#222" stroke="#222" stroke-width="0.15" >-1</text>
<line x1="185.5" y1="177" x2="186.8" y2="177" stroke="#333" stroke-width="0.5" />
<text x="185.1" y="178" font-size="2.75" text-anchor="end" font-weight="bold" font-style="normal" fill="#222" stroke="#222" stroke-width="0.15" >-2</text>
<line x1="185.5" y1="184.8" x2="186.8" y2="184.8" stroke="#333" stroke-width="0.5" />
<text x="185.1" y="185.8" font-size="2.75" text-anchor="end" font-weight="bold" font-style="normal" fill="#222" stroke="#222" stroke-width="0.15" >-3</text>
<polyline points="195.4,160.5 195.4,145.8 206.4,145.8 206.4,154.6" fill="none" stroke="#b0b0b0" stroke-width="0.5"/>
<text x="200.9" y="144.05" font-size="2.85" text-anchor="middle" font-weight="normal" font-style="italic" fill="#555" stroke="#555" stroke-width="0.08" >p < 0.0001</text>
<line x1="195.3" y1="162.5" x2="195.3" y2="164" stroke="#808080" stroke-width="0.5" />
<line x1="195.3" y1="167.2" x2="195.3" y2="176.5" stroke="#808080" stroke-width="0.5" />
<line x1="193.63" y1="162.5" x2="196.97" y2="162.5" stroke="#606060" stroke-width="0.55" />
<line x1="193.63" y1="176.5" x2="196.97" y2="176.5" stroke="#606060" stroke-width="0.55" />
<rect x="191.5" y="164" width="7.6" height="3.2" fill="#d2d2d2" stroke="#666" stroke-width="0.5"/>
<line x1="191.5" y1="165.3" x2="199.1" y2="165.3" stroke="#666" stroke-width="0.5" />
<line x1="195.3" y1="184.8" x2="195.3" y2="185.8" stroke="#333" stroke-width="0.5" />
<text x="195.7" y="188.8" font-size="2.9" text-anchor="end" font-weight="bold" font-style="normal" fill="#222" stroke="#222" stroke-width="0.1"  transform="rotate(-45 195.7 188.8)">Cluster 1</text>
<line x1="206.3" y1="156.6" x2="206.3" y2="159.8" stroke="#808080" stroke-width="0.5" />
<line x1="206.3" y1="162.9" x2="206.3" y2="165.3" stroke="#808080" stroke-width="0.5" />
<line x1="204.72" y1="156.6" x2="207.88" y2="156.6" stroke="#606060" stroke-width="0.55" />
<line x1="204.72" y1="165.3" x2="207.88" y2="165.3" stroke="#606060" stroke-width="0.55" />
<rect x="202.7" y="159.8" width="7.2" height="3.1" fill="#cf3a3c" stroke="#5a2424" stroke-width="0.5"/>
<line x1="202.7" y1="161.2" x2="209.9" y2="161.2" stroke="#4a1010" stroke-width="0.5" />
<line x1="206.3" y1="184.8" x2="206.3" y2="185.8" stroke="#333" stroke-width="0.5" />
<text x="206.7" y="188.8" font-size="2.9" text-anchor="end" font-weight="bold" font-style="normal" fill="#222" stroke="#222" stroke-width="0.1"  transform="rotate(-45 206.7 188.8)">Cluster 2</text>
<text x="247.85" y="138.8" font-size="3.7" text-anchor="middle" font-weight="bold" font-style="normal" fill="#111" stroke="#111" stroke-width="0.2" >MAN2A1</text>
<text x="225.78" y="166.05" font-size="3.45" text-anchor="middle" font-weight="normal" font-style="normal" fill="#333" stroke="#333" stroke-width="0.12"  transform="rotate(-90 225.78 166.05)">log<tspan font-size="2.45" dy="0.7">2</tspan><tspan dy="-0.7">(relative expression)</tspan></text>
<line x1="234.3" y1="144.6" x2="234.3" y2="185.1" stroke="#444" stroke-width="0.7" />
<line x1="234.3" y1="184.8" x2="263.6" y2="184.8" stroke="#666" stroke-width="0.8" />
<line x1="233" y1="144.9" x2="234.3" y2="144.9" stroke="#333" stroke-width="0.5" />
<text x="232.6" y="145.9" font-size="2.75" text-anchor="end" font-weight="bold" font-style="normal" fill="#222" stroke="#222" stroke-width="0.15" >2.5</text>
<line x1="233" y1="153.3" x2="234.3" y2="153.3" stroke="#333" stroke-width="0.5" />
<text x="232.6" y="154.3" font-size="2.75" text-anchor="end" font-weight="bold" font-style="normal" fill="#222" stroke="#222" stroke-width="0.15" >2.0</text>
<line x1="233" y1="161.2" x2="234.3" y2="161.2" stroke="#333" stroke-width="0.5" />
<text x="232.6" y="162.2" font-size="2.75" text-anchor="end" font-weight="bold" font-style="normal" fill="#222" stroke="#222" stroke-width="0.15" >1.5</text>
<line x1="233" y1="169.4" x2="234.3" y2="169.4" stroke="#333" stroke-width="0.5" />
<text x="232.6" y="170.4" font-size="2.75" text-anchor="end" font-weight="bold" font-style="normal" fill="#222" stroke="#222" stroke-width="0.15" >1.0</text>
<line x1="233" y1="177.4" x2="234.3" y2="177.4" stroke="#333" stroke-width="0.5" />
<text x="232.6" y="178.4" font-size="2.75" text-anchor="end" font-weight="bold" font-style="normal" fill="#222" stroke="#222" stroke-width="0.15" >0.5</text>
<line x1="233" y1="184.8" x2="234.3" y2="184.8" stroke="#333" stroke-width="0.5" />
<text x="232.6" y="185.8" font-size="2.75" text-anchor="end" font-weight="bold" font-style="normal" fill="#222" stroke="#222" stroke-width="0.15" >0.0</text>
<polyline points="242.3,161.5 242.3,145.8 253.4,145.8 253.4,152.7" fill="none" stroke="#b0b0b0" stroke-width="0.5"/>
<text x="247.85" y="144.05" font-size="2.85" text-anchor="middle" font-weight="normal" font-style="italic" fill="#555" stroke="#555" stroke-width="0.08" >p < 0.0001</text>
<line x1="242.2" y1="163.5" x2="242.2" y2="166.8" stroke="#808080" stroke-width="0.5" />
<line x1="242.2" y1="168.7" x2="242.2" y2="177.4" stroke="#808080" stroke-width="0.5" />
<line x1="240.7" y1="163.5" x2="243.7" y2="163.5" stroke="#606060" stroke-width="0.55" />
<line x1="240.7" y1="177.4" x2="243.7" y2="177.4" stroke="#606060" stroke-width="0.55" />
<rect x="238.8" y="166.8" width="6.8" height="1.9" fill="#d2d2d2" stroke="#666" stroke-width="0.5"/>
<line x1="238.8" y1="167.7" x2="245.6" y2="167.7" stroke="#666" stroke-width="0.5" />
<line x1="242.2" y1="184.8" x2="242.2" y2="185.8" stroke="#333" stroke-width="0.5" />
<text x="242.6" y="188.8" font-size="2.9" text-anchor="end" font-weight="bold" font-style="normal" fill="#222" stroke="#222" stroke-width="0.1"  transform="rotate(-45 242.6 188.8)">Cluster 1</text>
<line x1="253.3" y1="154.7" x2="253.3" y2="160.3" stroke="#808080" stroke-width="0.5" />
<line x1="253.3" y1="165.3" x2="253.3" y2="170" stroke="#808080" stroke-width="0.5" />
<line x1="251.8" y1="154.7" x2="254.8" y2="154.7" stroke="#606060" stroke-width="0.55" />
<line x1="251.8" y1="170" x2="254.8" y2="170" stroke="#606060" stroke-width="0.55" />
<rect x="249.9" y="160.3" width="6.8" height="5" fill="#cf3a3c" stroke="#5a2424" stroke-width="0.5"/>
<line x1="249.9" y1="162.5" x2="256.7" y2="162.5" stroke="#4a1010" stroke-width="0.5" />
<line x1="253.3" y1="184.8" x2="253.3" y2="185.8" stroke="#333" stroke-width="0.5" />
<text x="253.7" y="188.8" font-size="2.9" text-anchor="end" font-weight="bold" font-style="normal" fill="#222" stroke="#222" stroke-width="0.1"  transform="rotate(-45 253.7 188.8)">Cluster 2</text>
<text x="295.35" y="138.8" font-size="3.7" text-anchor="middle" font-weight="bold" font-style="normal" fill="#111" stroke="#111" stroke-width="0.2" >EMP3</text>
<text x="273.18" y="166.2" font-size="3.45" text-anchor="middle" font-weight="normal" font-style="normal" fill="#333" stroke="#333" stroke-width="0.12"  transform="rotate(-90 273.18 166.2)">log<tspan font-size="2.45" dy="0.7">2</tspan><tspan dy="-0.7">(relative expression)</tspan></text>
<line x1="281.7" y1="144.9" x2="281.7" y2="185.1" stroke="#444" stroke-width="0.7" />
<line x1="281.7" y1="184.8" x2="308.7" y2="184.8" stroke="#666" stroke-width="0.8" />
<line x1="280.4" y1="145.2" x2="281.7" y2="145.2" stroke="#333" stroke-width="0.5" />
<text x="280" y="146.2" font-size="2.75" text-anchor="end" font-weight="bold" font-style="normal" fill="#222" stroke="#222" stroke-width="0.15" >2.5</text>
<line x1="280.4" y1="155" x2="281.7" y2="155" stroke="#333" stroke-width="0.5" />
<text x="280" y="156" font-size="2.75" text-anchor="end" font-weight="bold" font-style="normal" fill="#222" stroke="#222" stroke-width="0.15" >2.0</text>
<line x1="280.4" y1="165.1" x2="281.7" y2="165.1" stroke="#333" stroke-width="0.5" />
<text x="280" y="166.1" font-size="2.75" text-anchor="end" font-weight="bold" font-style="normal" fill="#222" stroke="#222" stroke-width="0.15" >1.5</text>
<line x1="280.4" y1="175.2" x2="281.7" y2="175.2" stroke="#333" stroke-width="0.5" />
<text x="280" y="176.2" font-size="2.75" text-anchor="end" font-weight="bold" font-style="normal" fill="#222" stroke="#222" stroke-width="0.15" >1.0</text>
<line x1="280.4" y1="184.8" x2="281.7" y2="184.8" stroke="#333" stroke-width="0.5" />
<text x="280" y="185.8" font-size="2.75" text-anchor="end" font-weight="bold" font-style="normal" fill="#222" stroke="#222" stroke-width="0.15" >0.5</text>
<polyline points="289.75,154.8 289.75,145.8 301,145.8 301,159" fill="none" stroke="#b0b0b0" stroke-width="0.5"/>
<text x="295.38" y="144.05" font-size="2.85" text-anchor="middle" font-weight="normal" font-style="italic" fill="#555" stroke="#555" stroke-width="0.08" >p < 0.0001</text>
<line x1="289.65" y1="156.8" x2="289.65" y2="161.7" stroke="#808080" stroke-width="0.5" />
<line x1="289.65" y1="165.4" x2="289.65" y2="171.4" stroke="#808080" stroke-width="0.5" />
<line x1="288.04" y1="156.8" x2="291.26" y2="156.8" stroke="#606060" stroke-width="0.55" />
<line x1="288.04" y1="171.4" x2="291.26" y2="171.4" stroke="#606060" stroke-width="0.55" />
<rect x="286" y="161.7" width="7.3" height="3.7" fill="#d2d2d2" stroke="#666" stroke-width="0.5"/>
<line x1="286" y1="163.5" x2="293.3" y2="163.5" stroke="#666" stroke-width="0.5" />
<line x1="289.65" y1="184.8" x2="289.65" y2="185.8" stroke="#333" stroke-width="0.5" />
<text x="290.05" y="188.8" font-size="2.9" text-anchor="end" font-weight="bold" font-style="normal" fill="#222" stroke="#222" stroke-width="0.1"  transform="rotate(-45 290.05 188.8)">Cluster 1</text>
<line x1="300.9" y1="161" x2="300.9" y2="166.9" stroke="#808080" stroke-width="0.5" />
<line x1="300.9" y1="170.7" x2="300.9" y2="175.2" stroke="#808080" stroke-width="0.5" />
<line x1="299.32" y1="161" x2="302.48" y2="161" stroke="#606060" stroke-width="0.55" />
<line x1="299.32" y1="175.2" x2="302.48" y2="175.2" stroke="#606060" stroke-width="0.55" />
<rect x="297.3" y="166.9" width="7.2" height="3.8" fill="#cf3a3c" stroke="#5a2424" stroke-width="0.5"/>
<line x1="297.3" y1="168.9" x2="304.5" y2="168.9" stroke="#4a1010" stroke-width="0.5" />
<line x1="300.9" y1="184.8" x2="300.9" y2="185.8" stroke="#333" stroke-width="0.5" />
<text x="301.3" y="188.8" font-size="2.9" text-anchor="end" font-weight="bold" font-style="normal" fill="#222" stroke="#222" stroke-width="0.1"  transform="rotate(-45 301.3 188.8)">Cluster 2</text>
<text x="341.55" y="138.8" font-size="3.7" text-anchor="middle" font-weight="bold" font-style="normal" fill="#111" stroke="#111" stroke-width="0.2" >DENND3</text>
<text x="319.06" y="166.05" font-size="3.45" text-anchor="middle" font-weight="normal" font-style="normal" fill="#333" stroke="#333" stroke-width="0.12"  transform="rotate(-90 319.06 166.05)">log<tspan font-size="2.45" dy="0.7">2</tspan><tspan dy="-0.7">(relative expression)</tspan></text>
<line x1="328.5" y1="144.6" x2="328.5" y2="185.1" stroke="#444" stroke-width="0.7" />
<line x1="328.5" y1="184.8" x2="355.5" y2="184.8" stroke="#666" stroke-width="0.8" />
<line x1="327.2" y1="144.9" x2="328.5" y2="144.9" stroke="#333" stroke-width="0.5" />
<text x="326.8" y="145.9" font-size="2.75" text-anchor="end" font-weight="bold" font-style="normal" fill="#222" stroke="#222" stroke-width="0.15" >1.5</text>
<line x1="327.2" y1="153.3" x2="328.5" y2="153.3" stroke="#333" stroke-width="0.5" />
<text x="326.8" y="154.3" font-size="2.75" text-anchor="end" font-weight="bold" font-style="normal" fill="#222" stroke="#222" stroke-width="0.15" >1.0</text>
<line x1="327.2" y1="161.2" x2="328.5" y2="161.2" stroke="#333" stroke-width="0.5" />
<text x="326.8" y="162.2" font-size="2.75" text-anchor="end" font-weight="bold" font-style="normal" fill="#222" stroke="#222" stroke-width="0.15" >0.5</text>
<line x1="327.2" y1="169" x2="328.5" y2="169" stroke="#333" stroke-width="0.5" />
<text x="326.8" y="170" font-size="2.75" text-anchor="end" font-weight="bold" font-style="normal" fill="#222" stroke="#222" stroke-width="0.15" >0.0</text>
<line x1="327.2" y1="177" x2="328.5" y2="177" stroke="#333" stroke-width="0.5" />
<text x="326.8" y="178" font-size="2.75" text-anchor="end" font-weight="bold" font-style="normal" fill="#222" stroke="#222" stroke-width="0.15" >-0.5</text>
<line x1="327.2" y1="184.8" x2="328.5" y2="184.8" stroke="#333" stroke-width="0.5" />
<text x="326.8" y="185.8" font-size="2.75" text-anchor="end" font-weight="bold" font-style="normal" fill="#222" stroke="#222" stroke-width="0.15" >-1.0</text>
<polyline points="336,158.7 336,145.8 347.1,145.8 347.1,147.6" fill="none" stroke="#b0b0b0" stroke-width="0.5"/>
<text x="341.55" y="144.05" font-size="2.85" text-anchor="middle" font-weight="normal" font-style="italic" fill="#555" stroke="#555" stroke-width="0.08" >p < 0.0001</text>
<line x1="335.9" y1="160.7" x2="335.9" y2="165.3" stroke="#808080" stroke-width="0.5" />
<line x1="335.9" y1="173.3" x2="335.9" y2="179.6" stroke="#808080" stroke-width="0.5" />
<line x1="334.4" y1="160.7" x2="337.4" y2="160.7" stroke="#606060" stroke-width="0.55" />
<line x1="334.4" y1="179.6" x2="337.4" y2="179.6" stroke="#606060" stroke-width="0.55" />
<rect x="332.5" y="165.3" width="6.8" height="8" fill="#d2d2d2" stroke="#666" stroke-width="0.5"/>
<line x1="332.5" y1="167.2" x2="339.3" y2="167.2" stroke="#666" stroke-width="0.5" />
<line x1="335.9" y1="184.8" x2="335.9" y2="185.8" stroke="#333" stroke-width="0.5" />
<text x="336.3" y="188.8" font-size="2.9" text-anchor="end" font-weight="bold" font-style="normal" fill="#222" stroke="#222" stroke-width="0.1"  transform="rotate(-45 336.3 188.8)">Cluster 1</text>
<line x1="347" y1="149.6" x2="347" y2="157.9" stroke="#808080" stroke-width="0.5" />
<line x1="347" y1="162.5" x2="347" y2="164.4" stroke="#808080" stroke-width="0.5" />
<line x1="345.5" y1="149.6" x2="348.5" y2="149.6" stroke="#606060" stroke-width="0.55" />
<line x1="345.5" y1="164.4" x2="348.5" y2="164.4" stroke="#606060" stroke-width="0.55" />
<rect x="343.6" y="157.9" width="6.8" height="4.6" fill="#cf3a3c" stroke="#5a2424" stroke-width="0.5"/>
<line x1="343.6" y1="160.3" x2="350.4" y2="160.3" stroke="#4a1010" stroke-width="0.5" />
<line x1="347" y1="184.8" x2="347" y2="185.8" stroke="#333" stroke-width="0.5" />
<text x="347.4" y="188.8" font-size="2.9" text-anchor="end" font-weight="bold" font-style="normal" fill="#222" stroke="#222" stroke-width="0.1"  transform="rotate(-45 347.4 188.8)">Cluster 2</text>
<text x="384.7" y="138.8" font-size="3.7" text-anchor="middle" font-weight="bold" font-style="normal" fill="#111" stroke="#111" stroke-width="0.2" >EIF3A</text>
<text x="365.17" y="166.05" font-size="3.45" text-anchor="middle" font-weight="normal" font-style="normal" fill="#333" stroke="#333" stroke-width="0.12"  transform="rotate(-90 365.17 166.05)">log<tspan font-size="2.45" dy="0.7">2</tspan><tspan dy="-0.7">(relative expression)</tspan></text>
<line x1="371.4" y1="144.6" x2="371.4" y2="185.1" stroke="#444" stroke-width="0.7" />
<line x1="371.4" y1="184.8" x2="399" y2="184.8" stroke="#666" stroke-width="0.8" />
<line x1="370.1" y1="144.9" x2="371.4" y2="144.9" stroke="#333" stroke-width="0.5" />
<text x="369.7" y="145.9" font-size="2.75" text-anchor="end" font-weight="bold" font-style="normal" fill="#222" stroke="#222" stroke-width="0.15" >5</text>
<line x1="370.1" y1="157" x2="371.4" y2="157" stroke="#333" stroke-width="0.5" />
<text x="369.7" y="158" font-size="2.75" text-anchor="end" font-weight="bold" font-style="normal" fill="#222" stroke="#222" stroke-width="0.15" >4</text>
<line x1="370.1" y1="168.1" x2="371.4" y2="168.1" stroke="#333" stroke-width="0.5" />
<text x="369.7" y="169.1" font-size="2.75" text-anchor="end" font-weight="bold" font-style="normal" fill="#222" stroke="#222" stroke-width="0.15" >3</text>
<line x1="370.1" y1="178.9" x2="371.4" y2="178.9" stroke="#333" stroke-width="0.5" />
<text x="369.7" y="179.9" font-size="2.75" text-anchor="end" font-weight="bold" font-style="normal" fill="#222" stroke="#222" stroke-width="0.15" >2</text>
<polyline points="378.65,157.8 378.65,145.8 390.7,145.8 390.7,147.6" fill="none" stroke="#b0b0b0" stroke-width="0.5"/>
<text x="384.67" y="144.05" font-size="2.85" text-anchor="middle" font-weight="normal" font-style="italic" fill="#555" stroke="#555" stroke-width="0.08" >p < 0.0002</text>
<line x1="378.55" y1="159.8" x2="378.55" y2="168.1" stroke="#808080" stroke-width="0.5" />
<line x1="378.55" y1="173.3" x2="378.55" y2="176.1" stroke="#808080" stroke-width="0.5" />
<line x1="376.86" y1="159.8" x2="380.24" y2="159.8" stroke="#606060" stroke-width="0.55" />
<line x1="376.86" y1="176.1" x2="380.24" y2="176.1" stroke="#606060" stroke-width="0.55" />
<rect x="374.7" y="168.1" width="7.7" height="5.2" fill="#d2d2d2" stroke="#666" stroke-width="0.5"/>
<line x1="374.7" y1="170.5" x2="382.4" y2="170.5" stroke="#666" stroke-width="0.5" />
<line x1="378.55" y1="184.8" x2="378.55" y2="185.8" stroke="#333" stroke-width="0.5" />
<text x="378.95" y="188.8" font-size="2.9" text-anchor="end" font-weight="bold" font-style="normal" fill="#222" stroke="#222" stroke-width="0.1"  transform="rotate(-45 378.95 188.8)">Cluster 1</text>
<line x1="390.6" y1="149.6" x2="390.6" y2="164" stroke="#808080" stroke-width="0.5" />
<line x1="390.6" y1="169" x2="390.6" y2="174.6" stroke="#808080" stroke-width="0.5" />
<line x1="388.88" y1="149.6" x2="392.32" y2="149.6" stroke="#606060" stroke-width="0.55" />
<line x1="388.88" y1="174.6" x2="392.32" y2="174.6" stroke="#606060" stroke-width="0.55" />
<rect x="386.7" y="164" width="7.8" height="5" fill="#cf3a3c" stroke="#5a2424" stroke-width="0.5"/>
<line x1="386.7" y1="166.3" x2="394.5" y2="166.3" stroke="#4a1010" stroke-width="0.5" />
<line x1="390.6" y1="184.8" x2="390.6" y2="185.8" stroke="#333" stroke-width="0.5" />
<text x="391" y="188.8" font-size="2.9" text-anchor="end" font-weight="bold" font-style="normal" fill="#222" stroke="#222" stroke-width="0.1"  transform="rotate(-45 391 188.8)">Cluster 2</text>
<text x="426.2" y="138.8" font-size="3.7" text-anchor="middle" font-weight="bold" font-style="normal" fill="#111" stroke="#111" stroke-width="0.2" >SLAMF1</text>
<text x="407.27" y="166.35" font-size="3.45" text-anchor="middle" font-weight="normal" font-style="normal" fill="#333" stroke="#333" stroke-width="0.12"  transform="rotate(-90 407.27 166.35)">log<tspan font-size="2.45" dy="0.7">2</tspan><tspan dy="-0.7">(relative expression)</tspan></text>
<line x1="413.5" y1="145.2" x2="413.5" y2="185.1" stroke="#444" stroke-width="0.7" />
<line x1="413.5" y1="184.8" x2="439.5" y2="184.8" stroke="#666" stroke-width="0.8" />
<line x1="412.2" y1="145.5" x2="413.5" y2="145.5" stroke="#333" stroke-width="0.5" />
<text x="411.8" y="146.5" font-size="2.75" text-anchor="end" font-weight="bold" font-style="normal" fill="#222" stroke="#222" stroke-width="0.15" >7</text>
<line x1="412.2" y1="151.8" x2="413.5" y2="151.8" stroke="#333" stroke-width="0.5" />
<text x="411.8" y="152.8" font-size="2.75" text-anchor="end" font-weight="bold" font-style="normal" fill="#222" stroke="#222" stroke-width="0.15" >6</text>
<line x1="412.2" y1="158.5" x2="413.5" y2="158.5" stroke="#333" stroke-width="0.5" />
<text x="411.8" y="159.5" font-size="2.75" text-anchor="end" font-weight="bold" font-style="normal" fill="#222" stroke="#222" stroke-width="0.15" >5</text>
<line x1="412.2" y1="164.8" x2="413.5" y2="164.8" stroke="#333" stroke-width="0.5" />
<text x="411.8" y="165.8" font-size="2.75" text-anchor="end" font-weight="bold" font-style="normal" fill="#222" stroke="#222" stroke-width="0.15" >4</text>
<line x1="412.2" y1="171.4" x2="413.5" y2="171.4" stroke="#333" stroke-width="0.5" />
<text x="411.8" y="172.4" font-size="2.75" text-anchor="end" font-weight="bold" font-style="normal" fill="#222" stroke="#222" stroke-width="0.15" >3</text>
<line x1="412.2" y1="178.3" x2="413.5" y2="178.3" stroke="#333" stroke-width="0.5" />
<text x="411.8" y="179.3" font-size="2.75" text-anchor="end" font-weight="bold" font-style="normal" fill="#222" stroke="#222" stroke-width="0.15" >2</text>
<line x1="412.2" y1="184.8" x2="413.5" y2="184.8" stroke="#333" stroke-width="0.5" />
<text x="411.8" y="185.8" font-size="2.75" text-anchor="end" font-weight="bold" font-style="normal" fill="#222" stroke="#222" stroke-width="0.15" >1</text>
<polyline points="421.1,164.6 421.1,145.8 431.75,145.8 431.75,152.7" fill="none" stroke="#b0b0b0" stroke-width="0.5"/>
<text x="426.43" y="144.05" font-size="2.85" text-anchor="middle" font-weight="normal" font-style="italic" fill="#555" stroke="#555" stroke-width="0.08" >p = 0.0002</text>
<line x1="421" y1="166.6" x2="421" y2="170.9" stroke="#808080" stroke-width="0.5" />
<line x1="421" y1="174.6" x2="421" y2="178.3" stroke="#808080" stroke-width="0.5" />
<line x1="419.28" y1="166.6" x2="422.72" y2="166.6" stroke="#606060" stroke-width="0.55" />
<line x1="419.28" y1="178.3" x2="422.72" y2="178.3" stroke="#606060" stroke-width="0.55" />
<rect x="417.1" y="170.9" width="7.8" height="3.7" fill="#d2d2d2" stroke="#666" stroke-width="0.5"/>
<line x1="417.1" y1="172.7" x2="424.9" y2="172.7" stroke="#666" stroke-width="0.5" />
<line x1="421" y1="184.8" x2="421" y2="185.8" stroke="#333" stroke-width="0.5" />
<text x="421.4" y="188.8" font-size="2.9" text-anchor="end" font-weight="bold" font-style="normal" fill="#222" stroke="#222" stroke-width="0.1"  transform="rotate(-45 421.4 188.8)">Cluster 1</text>
<line x1="431.65" y1="154.7" x2="431.65" y2="167.2" stroke="#808080" stroke-width="0.5" />
<line x1="431.65" y1="170.5" x2="431.65" y2="173.7" stroke="#808080" stroke-width="0.5" />
<line x1="430.13" y1="154.7" x2="433.17" y2="154.7" stroke="#606060" stroke-width="0.55" />
<line x1="430.13" y1="173.7" x2="433.17" y2="173.7" stroke="#606060" stroke-width="0.55" />
<rect x="428.2" y="167.2" width="6.9" height="3.3" fill="#cf3a3c" stroke="#5a2424" stroke-width="0.5"/>
<line x1="428.2" y1="169" x2="435.1" y2="169" stroke="#4a1010" stroke-width="0.5" />
<line x1="431.65" y1="184.8" x2="431.65" y2="185.8" stroke="#333" stroke-width="0.5" />
<text x="432.05" y="188.8" font-size="2.9" text-anchor="end" font-weight="bold" font-style="normal" fill="#222" stroke="#222" stroke-width="0.1"  transform="rotate(-45 432.05 188.8)">Cluster 2</text>
<text x="196.6" y="206.5" font-size="3.7" text-anchor="middle" font-weight="bold" font-style="normal" fill="#111" stroke="#111" stroke-width="0.2" >DICER1</text>
<text x="177.37" y="234.3" font-size="3.45" text-anchor="middle" font-weight="normal" font-style="normal" fill="#333" stroke="#333" stroke-width="0.12"  transform="rotate(-90 177.37 234.3)">log<tspan font-size="2.45" dy="0.7">2</tspan><tspan dy="-0.7">(relative expression)</tspan></text>
<line x1="183.6" y1="213.5" x2="183.6" y2="252.7" stroke="#444" stroke-width="0.7" />
<line x1="183.6" y1="252.4" x2="210.3" y2="252.4" stroke="#666" stroke-width="0.8" />
<line x1="182.3" y1="213.8" x2="183.6" y2="213.8" stroke="#333" stroke-width="0.5" />
<text x="181.9" y="214.8" font-size="2.75" text-anchor="end" font-weight="bold" font-style="normal" fill="#222" stroke="#222" stroke-width="0.15" >4</text>
<line x1="182.3" y1="223" x2="183.6" y2="223" stroke="#333" stroke-width="0.5" />
<text x="181.9" y="224" font-size="2.75" text-anchor="end" font-weight="bold" font-style="normal" fill="#222" stroke="#222" stroke-width="0.15" >3</text>
<line x1="182.3" y1="232.9" x2="183.6" y2="232.9" stroke="#333" stroke-width="0.5" />
<text x="181.9" y="233.9" font-size="2.75" text-anchor="end" font-weight="bold" font-style="normal" fill="#222" stroke="#222" stroke-width="0.15" >2</text>
<line x1="182.3" y1="242.5" x2="183.6" y2="242.5" stroke="#333" stroke-width="0.5" />
<text x="181.9" y="243.5" font-size="2.75" text-anchor="end" font-weight="bold" font-style="normal" fill="#222" stroke="#222" stroke-width="0.15" >1</text>
<line x1="182.3" y1="252.4" x2="183.6" y2="252.4" stroke="#333" stroke-width="0.5" />
<text x="181.9" y="253.4" font-size="2.75" text-anchor="end" font-weight="bold" font-style="normal" fill="#222" stroke="#222" stroke-width="0.15" >0</text>
<polyline points="191.5,224.8 191.5,213.5 201.6,213.5 201.6,217.3" fill="none" stroke="#b0b0b0" stroke-width="0.5"/>
<text x="196.55" y="211.75" font-size="2.85" text-anchor="middle" font-weight="normal" font-style="italic" fill="#555" stroke="#555" stroke-width="0.08" >p < 0.0003</text>
<line x1="191.4" y1="226.8" x2="191.4" y2="230.5" stroke="#808080" stroke-width="0.5" />
<line x1="191.4" y1="235.1" x2="191.4" y2="247.7" stroke="#808080" stroke-width="0.5" />
<line x1="189.82" y1="226.8" x2="192.98" y2="226.8" stroke="#606060" stroke-width="0.55" />
<line x1="189.82" y1="247.7" x2="192.98" y2="247.7" stroke="#606060" stroke-width="0.55" />
<rect x="187.8" y="230.5" width="7.2" height="4.6" fill="#d2d2d2" stroke="#666" stroke-width="0.5"/>
<line x1="187.8" y1="232.9" x2="195" y2="232.9" stroke="#666" stroke-width="0.5" />
<line x1="191.4" y1="252.4" x2="191.4" y2="253.4" stroke="#333" stroke-width="0.5" />
<text x="191.8" y="256.4" font-size="2.9" text-anchor="end" font-weight="bold" font-style="normal" fill="#222" stroke="#222" stroke-width="0.1"  transform="rotate(-45 191.8 256.4)">Cluster 1</text>
<line x1="201.5" y1="219.3" x2="201.5" y2="227.3" stroke="#808080" stroke-width="0.5" />
<line x1="201.5" y1="231.8" x2="201.5" y2="237.3" stroke="#808080" stroke-width="0.5" />
<line x1="199.87" y1="219.3" x2="203.13" y2="219.3" stroke="#606060" stroke-width="0.55" />
<line x1="199.87" y1="237.3" x2="203.13" y2="237.3" stroke="#606060" stroke-width="0.55" />
<rect x="197.8" y="227.3" width="7.4" height="4.5" fill="#cf3a3c" stroke="#5a2424" stroke-width="0.5"/>
<line x1="197.8" y1="229.5" x2="205.2" y2="229.5" stroke="#4a1010" stroke-width="0.5" />
<line x1="201.5" y1="252.4" x2="201.5" y2="253.4" stroke="#333" stroke-width="0.5" />
<text x="201.9" y="256.4" font-size="2.9" text-anchor="end" font-weight="bold" font-style="normal" fill="#222" stroke="#222" stroke-width="0.1"  transform="rotate(-45 201.9 256.4)">Cluster 2</text>
<text x="243.9" y="206.5" font-size="3.7" text-anchor="middle" font-weight="bold" font-style="normal" fill="#111" stroke="#111" stroke-width="0.2" >SMAD4</text>
<text x="224.27" y="233.8" font-size="3.45" text-anchor="middle" font-weight="normal" font-style="normal" fill="#333" stroke="#333" stroke-width="0.12"  transform="rotate(-90 224.27 233.8)">log<tspan font-size="2.45" dy="0.7">2</tspan><tspan dy="-0.7">(relative expression)</tspan></text>
<line x1="230.5" y1="212.5" x2="230.5" y2="252.7" stroke="#444" stroke-width="0.7" />
<line x1="230.5" y1="252.4" x2="257.1" y2="252.4" stroke="#666" stroke-width="0.8" />
<line x1="229.2" y1="212.8" x2="230.5" y2="212.8" stroke="#333" stroke-width="0.5" />
<text x="228.8" y="213.8" font-size="2.75" text-anchor="end" font-weight="bold" font-style="normal" fill="#222" stroke="#222" stroke-width="0.15" >3</text>
<line x1="229.2" y1="226.2" x2="230.5" y2="226.2" stroke="#333" stroke-width="0.5" />
<text x="228.8" y="227.2" font-size="2.75" text-anchor="end" font-weight="bold" font-style="normal" fill="#222" stroke="#222" stroke-width="0.15" >2</text>
<line x1="229.2" y1="239.2" x2="230.5" y2="239.2" stroke="#333" stroke-width="0.5" />
<text x="228.8" y="240.2" font-size="2.75" text-anchor="end" font-weight="bold" font-style="normal" fill="#222" stroke="#222" stroke-width="0.15" >1</text>
<line x1="229.2" y1="252.4" x2="230.5" y2="252.4" stroke="#333" stroke-width="0.5" />
<text x="228.8" y="253.4" font-size="2.75" text-anchor="end" font-weight="bold" font-style="normal" fill="#222" stroke="#222" stroke-width="0.15" >0</text>
<polyline points="238.35,222.9 238.35,213.5 249.5,213.5 249.5,214.2" fill="none" stroke="#b0b0b0" stroke-width="0.5"/>
<text x="243.93" y="211.75" font-size="2.85" text-anchor="middle" font-weight="normal" font-style="italic" fill="#555" stroke="#555" stroke-width="0.08" >p = 0.0006</text>
<line x1="238.25" y1="224.9" x2="238.25" y2="231" stroke="#808080" stroke-width="0.5" />
<line x1="238.25" y1="237" x2="238.25" y2="242.2" stroke="#808080" stroke-width="0.5" />
<line x1="236.82" y1="224.9" x2="239.68" y2="224.9" stroke="#606060" stroke-width="0.55" />
<line x1="236.82" y1="242.2" x2="239.68" y2="242.2" stroke="#606060" stroke-width="0.55" />
<rect x="235" y="231" width="6.5" height="6" fill="#d2d2d2" stroke="#666" stroke-width="0.5"/>
<line x1="235" y1="233.8" x2="241.5" y2="233.8" stroke="#666" stroke-width="0.5" />
<line x1="238.25" y1="252.4" x2="238.25" y2="253.4" stroke="#333" stroke-width="0.5" />
<text x="238.65" y="256.4" font-size="2.9" text-anchor="end" font-weight="bold" font-style="normal" fill="#222" stroke="#222" stroke-width="0.1"  transform="rotate(-45 238.65 256.4)">Cluster 1</text>
<line x1="249.4" y1="216.2" x2="249.4" y2="226.8" stroke="#808080" stroke-width="0.5" />
<line x1="249.4" y1="234.2" x2="249.4" y2="237.9" stroke="#808080" stroke-width="0.5" />
<line x1="247.99" y1="216.2" x2="250.81" y2="216.2" stroke="#606060" stroke-width="0.55" />
<line x1="247.99" y1="237.9" x2="250.81" y2="237.9" stroke="#606060" stroke-width="0.55" />
<rect x="246.2" y="226.8" width="6.4" height="7.4" fill="#cf3a3c" stroke="#5a2424" stroke-width="0.5"/>
<line x1="246.2" y1="229.9" x2="252.6" y2="229.9" stroke="#4a1010" stroke-width="0.5" />
<line x1="249.4" y1="252.4" x2="249.4" y2="253.4" stroke="#333" stroke-width="0.5" />
<text x="249.8" y="256.4" font-size="2.9" text-anchor="end" font-weight="bold" font-style="normal" fill="#222" stroke="#222" stroke-width="0.1"  transform="rotate(-45 249.8 256.4)">Cluster 2</text>
<text x="292.85" y="206.5" font-size="3.7" text-anchor="middle" font-weight="bold" font-style="normal" fill="#111" stroke="#111" stroke-width="0.2" >MYD88</text>
<text x="270.58" y="234" font-size="3.45" text-anchor="middle" font-weight="normal" font-style="normal" fill="#333" stroke="#333" stroke-width="0.12"  transform="rotate(-90 270.58 234)">log<tspan font-size="2.45" dy="0.7">2</tspan><tspan dy="-0.7">(relative expression)</tspan></text>
<line x1="279.1" y1="212.9" x2="279.1" y2="252.7" stroke="#444" stroke-width="0.7" />
<line x1="279.1" y1="252.4" x2="308.6" y2="252.4" stroke="#666" stroke-width="0.8" />
<line x1="277.8" y1="213.2" x2="279.1" y2="213.2" stroke="#333" stroke-width="0.5" />
<text x="277.4" y="214.2" font-size="2.75" text-anchor="end" font-weight="bold" font-style="normal" fill="#222" stroke="#222" stroke-width="0.15" >2.5</text>
<line x1="277.8" y1="226.2" x2="279.1" y2="226.2" stroke="#333" stroke-width="0.5" />
<text x="277.4" y="227.2" font-size="2.75" text-anchor="end" font-weight="bold" font-style="normal" fill="#222" stroke="#222" stroke-width="0.15" >2.0</text>
<line x1="277.8" y1="239.2" x2="279.1" y2="239.2" stroke="#333" stroke-width="0.5" />
<text x="277.4" y="240.2" font-size="2.75" text-anchor="end" font-weight="bold" font-style="normal" fill="#222" stroke="#222" stroke-width="0.15" >1.5</text>
<line x1="277.8" y1="252.4" x2="279.1" y2="252.4" stroke="#333" stroke-width="0.5" />
<text x="277.4" y="253.4" font-size="2.75" text-anchor="end" font-weight="bold" font-style="normal" fill="#222" stroke="#222" stroke-width="0.15" >1.0</text>
<polyline points="287.3,220.1 287.3,213.5 298.4,213.5 298.4,216" fill="none" stroke="#b0b0b0" stroke-width="0.5"/>
<text x="292.85" y="211.75" font-size="2.85" text-anchor="middle" font-weight="normal" font-style="italic" fill="#555" stroke="#555" stroke-width="0.08" >p = 0.0006</text>
<line x1="287.2" y1="222.1" x2="287.2" y2="226.8" stroke="#808080" stroke-width="0.5" />
<line x1="287.2" y1="237" x2="287.2" y2="241.6" stroke="#808080" stroke-width="0.5" />
<line x1="285.7" y1="222.1" x2="288.7" y2="222.1" stroke="#606060" stroke-width="0.55" />
<line x1="285.7" y1="241.6" x2="288.7" y2="241.6" stroke="#606060" stroke-width="0.55" />
<rect x="283.8" y="226.8" width="6.8" height="10.2" fill="#d2d2d2" stroke="#666" stroke-width="0.5"/>
<line x1="283.8" y1="235.1" x2="290.6" y2="235.1" stroke="#666" stroke-width="0.5" />
<line x1="287.2" y1="252.4" x2="287.2" y2="253.4" stroke="#333" stroke-width="0.5" />
<text x="287.6" y="256.4" font-size="2.9" text-anchor="end" font-weight="bold" font-style="normal" fill="#222" stroke="#222" stroke-width="0.1"  transform="rotate(-45 287.6 256.4)">Cluster 1</text>
<line x1="298.3" y1="218" x2="298.3" y2="224" stroke="#808080" stroke-width="0.5" />
<line x1="298.3" y1="231.8" x2="298.3" y2="240.7" stroke="#808080" stroke-width="0.5" />
<line x1="296.8" y1="218" x2="299.8" y2="218" stroke="#606060" stroke-width="0.55" />
<line x1="296.8" y1="240.7" x2="299.8" y2="240.7" stroke="#606060" stroke-width="0.55" />
<rect x="294.9" y="224" width="6.8" height="7.8" fill="#cf3a3c" stroke="#5a2424" stroke-width="0.5"/>
<line x1="294.9" y1="227.7" x2="301.7" y2="227.7" stroke="#4a1010" stroke-width="0.5" />
<line x1="298.3" y1="252.4" x2="298.3" y2="253.4" stroke="#333" stroke-width="0.5" />
<text x="298.7" y="256.4" font-size="2.9" text-anchor="end" font-weight="bold" font-style="normal" fill="#222" stroke="#222" stroke-width="0.1"  transform="rotate(-45 298.7 256.4)">Cluster 2</text>
<text x="339.5" y="206.5" font-size="3.7" text-anchor="middle" font-weight="bold" font-style="normal" fill="#111" stroke="#111" stroke-width="0.2" >HDAC4</text>
<text x="317.06" y="234.3" font-size="3.45" text-anchor="middle" font-weight="normal" font-style="normal" fill="#333" stroke="#333" stroke-width="0.12"  transform="rotate(-90 317.06 234.3)">log<tspan font-size="2.45" dy="0.7">2</tspan><tspan dy="-0.7">(relative expression)</tspan></text>
<line x1="326.5" y1="213.5" x2="326.5" y2="252.7" stroke="#444" stroke-width="0.7" />
<line x1="326.5" y1="252.4" x2="353.6" y2="252.4" stroke="#666" stroke-width="0.8" />
<line x1="325.2" y1="213.8" x2="326.5" y2="213.8" stroke="#333" stroke-width="0.5" />
<text x="324.8" y="214.8" font-size="2.75" text-anchor="end" font-weight="bold" font-style="normal" fill="#222" stroke="#222" stroke-width="0.15" >1.0</text>
<line x1="325.2" y1="221.2" x2="326.5" y2="221.2" stroke="#333" stroke-width="0.5" />
<text x="324.8" y="222.2" font-size="2.75" text-anchor="end" font-weight="bold" font-style="normal" fill="#222" stroke="#222" stroke-width="0.15" >0.5</text>
<line x1="325.2" y1="229" x2="326.5" y2="229" stroke="#333" stroke-width="0.5" />
<text x="324.8" y="230" font-size="2.75" text-anchor="end" font-weight="bold" font-style="normal" fill="#222" stroke="#222" stroke-width="0.15" >0.0</text>
<line x1="325.2" y1="236.6" x2="326.5" y2="236.6" stroke="#333" stroke-width="0.5" />
<text x="324.8" y="237.6" font-size="2.75" text-anchor="end" font-weight="bold" font-style="normal" fill="#222" stroke="#222" stroke-width="0.15" >-0.5</text>
<line x1="325.2" y1="244.4" x2="326.5" y2="244.4" stroke="#333" stroke-width="0.5" />
<text x="324.8" y="245.4" font-size="2.75" text-anchor="end" font-weight="bold" font-style="normal" fill="#222" stroke="#222" stroke-width="0.15" >-1.0</text>
<line x1="325.2" y1="252.4" x2="326.5" y2="252.4" stroke="#333" stroke-width="0.5" />
<text x="324.8" y="253.4" font-size="2.75" text-anchor="end" font-weight="bold" font-style="normal" fill="#222" stroke="#222" stroke-width="0.15" >-1.5</text>
<polyline points="333.9,223.8 333.9,213.5 345.25,213.5 345.25,217.3" fill="none" stroke="#b0b0b0" stroke-width="0.5"/>
<text x="339.57" y="211.75" font-size="2.85" text-anchor="middle" font-weight="normal" font-style="italic" fill="#555" stroke="#555" stroke-width="0.08" >p = 0.0008</text>
<line x1="333.8" y1="225.8" x2="333.8" y2="229.5" stroke="#808080" stroke-width="0.5" />
<line x1="333.8" y1="233.8" x2="333.8" y2="248.1" stroke="#808080" stroke-width="0.5" />
<line x1="332.22" y1="225.8" x2="335.38" y2="225.8" stroke="#606060" stroke-width="0.55" />
<line x1="332.22" y1="248.1" x2="335.38" y2="248.1" stroke="#606060" stroke-width="0.55" />
<rect x="330.2" y="229.5" width="7.2" height="4.3" fill="#d2d2d2" stroke="#666" stroke-width="0.5"/>
<line x1="330.2" y1="231.8" x2="337.4" y2="231.8" stroke="#666" stroke-width="0.5" />
<line x1="333.8" y1="252.4" x2="333.8" y2="253.4" stroke="#333" stroke-width="0.5" />
<text x="334.2" y="256.4" font-size="2.9" text-anchor="end" font-weight="bold" font-style="normal" fill="#222" stroke="#222" stroke-width="0.1"  transform="rotate(-45 334.2 256.4)">Cluster 1</text>
<line x1="345.15" y1="219.3" x2="345.15" y2="225.5" stroke="#808080" stroke-width="0.5" />
<line x1="345.15" y1="229.9" x2="345.15" y2="237.9" stroke="#808080" stroke-width="0.5" />
<line x1="343.63" y1="219.3" x2="346.67" y2="219.3" stroke="#606060" stroke-width="0.55" />
<line x1="343.63" y1="237.9" x2="346.67" y2="237.9" stroke="#606060" stroke-width="0.55" />
<rect x="341.7" y="225.5" width="6.9" height="4.4" fill="#cf3a3c" stroke="#5a2424" stroke-width="0.5"/>
<line x1="341.7" y1="227.7" x2="348.6" y2="227.7" stroke="#4a1010" stroke-width="0.5" />
<line x1="345.15" y1="252.4" x2="345.15" y2="253.4" stroke="#333" stroke-width="0.5" />
<text x="345.55" y="256.4" font-size="2.9" text-anchor="end" font-weight="bold" font-style="normal" fill="#222" stroke="#222" stroke-width="0.1"  transform="rotate(-45 345.55 256.4)">Cluster 2</text>
<text x="384.05" y="206.5" font-size="3.7" text-anchor="middle" font-weight="bold" font-style="normal" fill="#111" stroke="#111" stroke-width="0.2" >RPL8</text>
<text x="364.97" y="234" font-size="3.45" text-anchor="middle" font-weight="normal" font-style="normal" fill="#333" stroke="#333" stroke-width="0.12"  transform="rotate(-90 364.97 234)">log<tspan font-size="2.45" dy="0.7">2</tspan><tspan dy="-0.7">(relative expression)</tspan></text>
<line x1="371.2" y1="212.9" x2="371.2" y2="252.7" stroke="#444" stroke-width="0.7" />
<line x1="371.2" y1="252.4" x2="398" y2="252.4" stroke="#666" stroke-width="0.8" />
<line x1="369.9" y1="213.2" x2="371.2" y2="213.2" stroke="#333" stroke-width="0.5" />
<text x="369.5" y="214.2" font-size="2.75" text-anchor="end" font-weight="bold" font-style="normal" fill="#222" stroke="#222" stroke-width="0.15" >6</text>
<line x1="369.9" y1="222.9" x2="371.2" y2="222.9" stroke="#333" stroke-width="0.5" />
<text x="369.5" y="223.9" font-size="2.75" text-anchor="end" font-weight="bold" font-style="normal" fill="#222" stroke="#222" stroke-width="0.15" >5</text>
<line x1="369.9" y1="232.7" x2="371.2" y2="232.7" stroke="#333" stroke-width="0.5" />
<text x="369.5" y="233.7" font-size="2.75" text-anchor="end" font-weight="bold" font-style="normal" fill="#222" stroke="#222" stroke-width="0.15" >4</text>
<line x1="369.9" y1="242.5" x2="371.2" y2="242.5" stroke="#333" stroke-width="0.5" />
<text x="369.5" y="243.5" font-size="2.75" text-anchor="end" font-weight="bold" font-style="normal" fill="#222" stroke="#222" stroke-width="0.15" >3</text>
<line x1="369.9" y1="252.4" x2="371.2" y2="252.4" stroke="#333" stroke-width="0.5" />
<text x="369.5" y="253.4" font-size="2.75" text-anchor="end" font-weight="bold" font-style="normal" fill="#222" stroke="#222" stroke-width="0.15" >2</text>
<polyline points="378.5,225.7 378.5,213.5 389.6,213.5 389.6,223.5" fill="none" stroke="#b0b0b0" stroke-width="0.5"/>
<text x="384.05" y="211.75" font-size="2.85" text-anchor="middle" font-weight="normal" font-style="italic" fill="#555" stroke="#555" stroke-width="0.08" >p = 0.0009</text>
<line x1="378.4" y1="227.7" x2="378.4" y2="231.4" stroke="#808080" stroke-width="0.5" />
<line x1="378.4" y1="235.7" x2="378.4" y2="238.4" stroke="#808080" stroke-width="0.5" />
<line x1="376.77" y1="227.7" x2="380.03" y2="227.7" stroke="#606060" stroke-width="0.55" />
<line x1="376.77" y1="238.4" x2="380.03" y2="238.4" stroke="#606060" stroke-width="0.55" />
<rect x="374.7" y="231.4" width="7.4" height="4.3" fill="#d2d2d2" stroke="#666" stroke-width="0.5"/>
<line x1="374.7" y1="233.3" x2="382.1" y2="233.3" stroke="#666" stroke-width="0.5" />
<line x1="378.4" y1="252.4" x2="378.4" y2="253.4" stroke="#333" stroke-width="0.5" />
<text x="378.8" y="256.4" font-size="2.9" text-anchor="end" font-weight="bold" font-style="normal" fill="#222" stroke="#222" stroke-width="0.1"  transform="rotate(-45 378.8 256.4)">Cluster 1</text>
<line x1="389.5" y1="225.5" x2="389.5" y2="228.2" stroke="#808080" stroke-width="0.5" />
<line x1="389.5" y1="232.3" x2="389.5" y2="236.6" stroke="#808080" stroke-width="0.5" />
<line x1="387.87" y1="225.5" x2="391.13" y2="225.5" stroke="#606060" stroke-width="0.55" />
<line x1="387.87" y1="236.6" x2="391.13" y2="236.6" stroke="#606060" stroke-width="0.55" />
<rect x="385.8" y="228.2" width="7.4" height="4.1" fill="#cf3a3c" stroke="#5a2424" stroke-width="0.5"/>
<line x1="385.8" y1="230.5" x2="393.2" y2="230.5" stroke="#4a1010" stroke-width="0.5" />
<line x1="389.5" y1="252.4" x2="389.5" y2="253.4" stroke="#333" stroke-width="0.5" />
<text x="389.9" y="256.4" font-size="2.9" text-anchor="end" font-weight="bold" font-style="normal" fill="#222" stroke="#222" stroke-width="0.1"  transform="rotate(-45 389.9 256.4)">Cluster 2</text>
<text x="426.2" y="206.5" font-size="3.7" text-anchor="middle" font-weight="bold" font-style="normal" fill="#111" stroke="#111" stroke-width="0.2" >FBXW2</text>
<text x="407.27" y="234" font-size="3.45" text-anchor="middle" font-weight="normal" font-style="normal" fill="#333" stroke="#333" stroke-width="0.12"  transform="rotate(-90 407.27 234)">log<tspan font-size="2.45" dy="0.7">2</tspan><tspan dy="-0.7">(relative expression)</tspan></text>
<line x1="413.5" y1="212.9" x2="413.5" y2="252.7" stroke="#444" stroke-width="0.7" />
<line x1="413.5" y1="252.4" x2="439.5" y2="252.4" stroke="#666" stroke-width="0.8" />
<line x1="412.2" y1="213.2" x2="413.5" y2="213.2" stroke="#333" stroke-width="0.5" />
<text x="411.8" y="214.2" font-size="2.75" text-anchor="end" font-weight="bold" font-style="normal" fill="#222" stroke="#222" stroke-width="0.15" >3</text>
<line x1="412.2" y1="226.2" x2="413.5" y2="226.2" stroke="#333" stroke-width="0.5" />
<text x="411.8" y="227.2" font-size="2.75" text-anchor="end" font-weight="bold" font-style="normal" fill="#222" stroke="#222" stroke-width="0.15" >2</text>
<line x1="412.2" y1="239.2" x2="413.5" y2="239.2" stroke="#333" stroke-width="0.5" />
<text x="411.8" y="240.2" font-size="2.75" text-anchor="end" font-weight="bold" font-style="normal" fill="#222" stroke="#222" stroke-width="0.15" >1</text>
<line x1="412.2" y1="252.4" x2="413.5" y2="252.4" stroke="#333" stroke-width="0.5" />
<text x="411.8" y="253.4" font-size="2.75" text-anchor="end" font-weight="bold" font-style="normal" fill="#222" stroke="#222" stroke-width="0.15" >0</text>
<polyline points="420.9,230.3 420.9,213.5 431.75,213.5 431.75,214.9" fill="none" stroke="#b0b0b0" stroke-width="0.5"/>
<text x="426.32" y="211.75" font-size="2.85" text-anchor="middle" font-weight="normal" font-style="italic" fill="#555" stroke="#555" stroke-width="0.08" >p = 0.0011</text>
<line x1="420.8" y1="232.3" x2="420.8" y2="236" stroke="#808080" stroke-width="0.5" />
<line x1="420.8" y1="241" x2="420.8" y2="245.3" stroke="#808080" stroke-width="0.5" />
<line x1="419.17" y1="232.3" x2="422.43" y2="232.3" stroke="#606060" stroke-width="0.55" />
<line x1="419.17" y1="245.3" x2="422.43" y2="245.3" stroke="#606060" stroke-width="0.55" />
<rect x="417.1" y="236" width="7.4" height="5" fill="#d2d2d2" stroke="#666" stroke-width="0.5"/>
<line x1="417.1" y1="238.4" x2="424.5" y2="238.4" stroke="#666" stroke-width="0.5" />
<line x1="420.8" y1="252.4" x2="420.8" y2="253.4" stroke="#333" stroke-width="0.5" />
<text x="421.2" y="256.4" font-size="2.9" text-anchor="end" font-weight="bold" font-style="normal" fill="#222" stroke="#222" stroke-width="0.1"  transform="rotate(-45 421.2 256.4)">Cluster 1</text>
<line x1="431.65" y1="216.9" x2="431.65" y2="232.3" stroke="#808080" stroke-width="0.5" />
<line x1="431.65" y1="237.3" x2="431.65" y2="243.5" stroke="#808080" stroke-width="0.5" />
<line x1="430.13" y1="216.9" x2="433.17" y2="216.9" stroke="#606060" stroke-width="0.55" />
<line x1="430.13" y1="243.5" x2="433.17" y2="243.5" stroke="#606060" stroke-width="0.55" />
<rect x="428.2" y="232.3" width="6.9" height="5" fill="#cf3a3c" stroke="#5a2424" stroke-width="0.5"/>
<line x1="428.2" y1="235.1" x2="435.1" y2="235.1" stroke="#4a1010" stroke-width="0.5" />
<line x1="431.65" y1="252.4" x2="431.65" y2="253.4" stroke="#333" stroke-width="0.5" />
<text x="432.05" y="256.4" font-size="2.9" text-anchor="end" font-weight="bold" font-style="normal" fill="#222" stroke="#222" stroke-width="0.1"  transform="rotate(-45 432.05 256.4)">Cluster 2</text>
<text x="198.8" y="275.5" font-size="3.7" text-anchor="middle" font-weight="bold" font-style="normal" fill="#111" stroke="#111" stroke-width="0.2" >DPM2</text>
<text x="176.06" y="302.35" font-size="3.45" text-anchor="middle" font-weight="normal" font-style="normal" fill="#333" stroke="#333" stroke-width="0.12"  transform="rotate(-90 176.06 302.35)">log<tspan font-size="2.45" dy="0.7">2</tspan><tspan dy="-0.7">(relative expression)</tspan></text>
<line x1="185.5" y1="281.6" x2="185.5" y2="320.7" stroke="#444" stroke-width="0.7" />
<line x1="185.5" y1="320.4" x2="214.3" y2="320.4" stroke="#666" stroke-width="0.8" />
<line x1="184.2" y1="281.9" x2="185.5" y2="281.9" stroke="#333" stroke-width="0.5" />
<text x="183.8" y="282.9" font-size="2.75" text-anchor="end" font-weight="bold" font-style="normal" fill="#222" stroke="#222" stroke-width="0.15" >1.5</text>
<line x1="184.2" y1="291.4" x2="185.5" y2="291.4" stroke="#333" stroke-width="0.5" />
<text x="183.8" y="292.4" font-size="2.75" text-anchor="end" font-weight="bold" font-style="normal" fill="#222" stroke="#222" stroke-width="0.15" >1.0</text>
<line x1="184.2" y1="301.2" x2="185.5" y2="301.2" stroke="#333" stroke-width="0.5" />
<text x="183.8" y="302.2" font-size="2.75" text-anchor="end" font-weight="bold" font-style="normal" fill="#222" stroke="#222" stroke-width="0.15" >0.5</text>
<line x1="184.2" y1="310.9" x2="185.5" y2="310.9" stroke="#333" stroke-width="0.5" />
<text x="183.8" y="311.9" font-size="2.75" text-anchor="end" font-weight="bold" font-style="normal" fill="#222" stroke="#222" stroke-width="0.15" >0.0</text>
<line x1="184.2" y1="320.4" x2="185.5" y2="320.4" stroke="#333" stroke-width="0.5" />
<text x="183.8" y="321.4" font-size="2.75" text-anchor="end" font-weight="bold" font-style="normal" fill="#222" stroke="#222" stroke-width="0.15" >-0.5</text>
<polyline points="193.35,293.6 193.35,282.5 204.4,282.5 204.4,286.1" fill="none" stroke="#b0b0b0" stroke-width="0.5"/>
<text x="198.88" y="280.75" font-size="2.85" text-anchor="middle" font-weight="normal" font-style="italic" fill="#555" stroke="#555" stroke-width="0.08" >p = 0.0018</text>
<line x1="193.25" y1="295.6" x2="193.25" y2="298.7" stroke="#808080" stroke-width="0.5" />
<line x1="193.25" y1="301.8" x2="193.25" y2="309" stroke="#808080" stroke-width="0.5" />
<line x1="191.47" y1="295.6" x2="195.03" y2="295.6" stroke="#606060" stroke-width="0.55" />
<line x1="191.47" y1="309" x2="195.03" y2="309" stroke="#606060" stroke-width="0.55" />
<rect x="189.2" y="298.7" width="8.1" height="3.1" fill="#d2d2d2" stroke="#666" stroke-width="0.5"/>
<line x1="189.2" y1="300.1" x2="197.3" y2="300.1" stroke="#666" stroke-width="0.5" />
<line x1="193.25" y1="320.4" x2="193.25" y2="321.4" stroke="#333" stroke-width="0.5" />
<text x="193.65" y="324.4" font-size="2.9" text-anchor="end" font-weight="bold" font-style="normal" fill="#222" stroke="#222" stroke-width="0.1"  transform="rotate(-45 193.65 324.4)">Cluster 1</text>
<line x1="204.3" y1="288.1" x2="204.3" y2="302.6" stroke="#808080" stroke-width="0.5" />
<line x1="204.3" y1="309.4" x2="204.3" y2="317.3" stroke="#808080" stroke-width="0.5" />
<line x1="202.58" y1="288.1" x2="206.02" y2="288.1" stroke="#606060" stroke-width="0.55" />
<line x1="202.58" y1="317.3" x2="206.02" y2="317.3" stroke="#606060" stroke-width="0.55" />
<rect x="200.4" y="302.6" width="7.8" height="6.8" fill="#cf3a3c" stroke="#5a2424" stroke-width="0.5"/>
<line x1="200.4" y1="305.9" x2="208.2" y2="305.9" stroke="#4a1010" stroke-width="0.5" />
<line x1="204.3" y1="320.4" x2="204.3" y2="321.4" stroke="#333" stroke-width="0.5" />
<text x="204.7" y="324.4" font-size="2.9" text-anchor="end" font-weight="bold" font-style="normal" fill="#222" stroke="#222" stroke-width="0.1"  transform="rotate(-45 204.7 324.4)">Cluster 2</text>
<text x="246.9" y="275.5" font-size="3.7" text-anchor="middle" font-weight="bold" font-style="normal" fill="#111" stroke="#111" stroke-width="0.2" >TMF1</text>
<text x="224.68" y="302.15" font-size="3.45" text-anchor="middle" font-weight="normal" font-style="normal" fill="#333" stroke="#333" stroke-width="0.12"  transform="rotate(-90 224.68 302.15)">log<tspan font-size="2.45" dy="0.7">2</tspan><tspan dy="-0.7">(relative expression)</tspan></text>
<line x1="233.2" y1="281.2" x2="233.2" y2="320.7" stroke="#444" stroke-width="0.7" />
<line x1="233.2" y1="320.4" x2="262.4" y2="320.4" stroke="#666" stroke-width="0.8" />
<line x1="231.9" y1="281.5" x2="233.2" y2="281.5" stroke="#333" stroke-width="0.5" />
<text x="231.5" y="282.5" font-size="2.75" text-anchor="end" font-weight="bold" font-style="normal" fill="#222" stroke="#222" stroke-width="0.15" >2.5</text>
<line x1="231.9" y1="289.4" x2="233.2" y2="289.4" stroke="#333" stroke-width="0.5" />
<text x="231.5" y="290.4" font-size="2.75" text-anchor="end" font-weight="bold" font-style="normal" fill="#222" stroke="#222" stroke-width="0.15" >2.0</text>
<line x1="231.9" y1="297" x2="233.2" y2="297" stroke="#333" stroke-width="0.5" />
<text x="231.5" y="298" font-size="2.75" text-anchor="end" font-weight="bold" font-style="normal" fill="#222" stroke="#222" stroke-width="0.15" >1.5</text>
<line x1="231.9" y1="304.9" x2="233.2" y2="304.9" stroke="#333" stroke-width="0.5" />
<text x="231.5" y="305.9" font-size="2.75" text-anchor="end" font-weight="bold" font-style="normal" fill="#222" stroke="#222" stroke-width="0.15" >1.0</text>
<line x1="231.9" y1="312.5" x2="233.2" y2="312.5" stroke="#333" stroke-width="0.5" />
<text x="231.5" y="313.5" font-size="2.75" text-anchor="end" font-weight="bold" font-style="normal" fill="#222" stroke="#222" stroke-width="0.15" >0.5</text>
<line x1="231.9" y1="320.4" x2="233.2" y2="320.4" stroke="#333" stroke-width="0.5" />
<text x="231.5" y="321.4" font-size="2.75" text-anchor="end" font-weight="bold" font-style="normal" fill="#222" stroke="#222" stroke-width="0.15" >0.0</text>
<polyline points="241.4,297.1 241.4,282.5 252.35,282.5 252.35,288.8" fill="none" stroke="#b0b0b0" stroke-width="0.5"/>
<text x="246.88" y="280.75" font-size="2.85" text-anchor="middle" font-weight="normal" font-style="italic" fill="#555" stroke="#555" stroke-width="0.08" >p = 0.0017</text>
<line x1="241.3" y1="299.1" x2="241.3" y2="301.8" stroke="#808080" stroke-width="0.5" />
<line x1="241.3" y1="304.7" x2="241.3" y2="316.7" stroke="#808080" stroke-width="0.5" />
<line x1="239.76" y1="299.1" x2="242.84" y2="299.1" stroke="#606060" stroke-width="0.55" />
<line x1="239.76" y1="316.7" x2="242.84" y2="316.7" stroke="#606060" stroke-width="0.55" />
<rect x="237.8" y="301.8" width="7" height="2.9" fill="#d2d2d2" stroke="#666" stroke-width="0.5"/>
<line x1="237.8" y1="303.2" x2="244.8" y2="303.2" stroke="#666" stroke-width="0.5" />
<line x1="241.3" y1="320.4" x2="241.3" y2="321.4" stroke="#333" stroke-width="0.5" />
<text x="241.7" y="324.4" font-size="2.9" text-anchor="end" font-weight="bold" font-style="normal" fill="#222" stroke="#222" stroke-width="0.1"  transform="rotate(-45 241.7 324.4)">Cluster 1</text>
<line x1="252.25" y1="290.8" x2="252.25" y2="297.6" stroke="#808080" stroke-width="0.5" />
<line x1="252.25" y1="304.7" x2="252.25" y2="308.4" stroke="#808080" stroke-width="0.5" />
<line x1="250.69" y1="290.8" x2="253.81" y2="290.8" stroke="#606060" stroke-width="0.55" />
<line x1="250.69" y1="308.4" x2="253.81" y2="308.4" stroke="#606060" stroke-width="0.55" />
<rect x="248.7" y="297.6" width="7.1" height="7.1" fill="#cf3a3c" stroke="#5a2424" stroke-width="0.5"/>
<line x1="248.7" y1="300.5" x2="255.8" y2="300.5" stroke="#4a1010" stroke-width="0.5" />
<line x1="252.25" y1="320.4" x2="252.25" y2="321.4" stroke="#333" stroke-width="0.5" />
<text x="252.65" y="324.4" font-size="2.9" text-anchor="end" font-weight="bold" font-style="normal" fill="#222" stroke="#222" stroke-width="0.1"  transform="rotate(-45 252.65 324.4)">Cluster 2</text>
<text x="294.5" y="275.5" font-size="3.7" text-anchor="middle" font-weight="bold" font-style="normal" fill="#111" stroke="#111" stroke-width="0.2" >CCL5</text>
<text x="272.18" y="302.15" font-size="3.45" text-anchor="middle" font-weight="normal" font-style="normal" fill="#333" stroke="#333" stroke-width="0.12"  transform="rotate(-90 272.18 302.15)">log<tspan font-size="2.45" dy="0.7">2</tspan><tspan dy="-0.7">(relative expression)</tspan></text>
<line x1="280.7" y1="281.2" x2="280.7" y2="320.7" stroke="#444" stroke-width="0.7" />
<line x1="280.7" y1="320.4" x2="308.4" y2="320.4" stroke="#666" stroke-width="0.8" />
<line x1="279.4" y1="281.5" x2="280.7" y2="281.5" stroke="#333" stroke-width="0.5" />
<text x="279" y="282.5" font-size="2.75" text-anchor="end" font-weight="bold" font-style="normal" fill="#222" stroke="#222" stroke-width="0.15" >3.0</text>
<line x1="279.4" y1="291.4" x2="280.7" y2="291.4" stroke="#333" stroke-width="0.5" />
<text x="279" y="292.4" font-size="2.75" text-anchor="end" font-weight="bold" font-style="normal" fill="#222" stroke="#222" stroke-width="0.15" >2.5</text>
<line x1="279.4" y1="301.2" x2="280.7" y2="301.2" stroke="#333" stroke-width="0.5" />
<text x="279" y="302.2" font-size="2.75" text-anchor="end" font-weight="bold" font-style="normal" fill="#222" stroke="#222" stroke-width="0.15" >2.0</text>
<line x1="279.4" y1="310.9" x2="280.7" y2="310.9" stroke="#333" stroke-width="0.5" />
<text x="279" y="311.9" font-size="2.75" text-anchor="end" font-weight="bold" font-style="normal" fill="#222" stroke="#222" stroke-width="0.15" >1.5</text>
<line x1="279.4" y1="320.4" x2="280.7" y2="320.4" stroke="#333" stroke-width="0.5" />
<text x="279" y="321.4" font-size="2.75" text-anchor="end" font-weight="bold" font-style="normal" fill="#222" stroke="#222" stroke-width="0.15" >1.0</text>
<polyline points="288.85,295.4 288.85,282.5 299.9,282.5 299.9,289.9" fill="none" stroke="#b0b0b0" stroke-width="0.5"/>
<text x="294.38" y="280.75" font-size="2.85" text-anchor="middle" font-weight="normal" font-style="italic" fill="#555" stroke="#555" stroke-width="0.08" >p = 0.0017</text>
<line x1="288.75" y1="297.4" x2="288.75" y2="300.1" stroke="#808080" stroke-width="0.5" />
<line x1="288.75" y1="304.7" x2="288.75" y2="308.4" stroke="#808080" stroke-width="0.5" />
<line x1="287.28" y1="297.4" x2="290.22" y2="297.4" stroke="#606060" stroke-width="0.55" />
<line x1="287.28" y1="308.4" x2="290.22" y2="308.4" stroke="#606060" stroke-width="0.55" />
<rect x="285.4" y="300.1" width="6.7" height="4.6" fill="#d2d2d2" stroke="#666" stroke-width="0.5"/>
<line x1="285.4" y1="302.2" x2="292.1" y2="302.2" stroke="#666" stroke-width="0.5" />
<line x1="288.75" y1="320.4" x2="288.75" y2="321.4" stroke="#333" stroke-width="0.5" />
<text x="289.15" y="324.4" font-size="2.9" text-anchor="end" font-weight="bold" font-style="normal" fill="#222" stroke="#222" stroke-width="0.1"  transform="rotate(-45 289.15 324.4)">Cluster 1</text>
<line x1="299.8" y1="291.9" x2="299.8" y2="299.1" stroke="#808080" stroke-width="0.5" />
<line x1="299.8" y1="303.2" x2="299.8" y2="306.3" stroke="#808080" stroke-width="0.5" />
<line x1="298.22" y1="291.9" x2="301.38" y2="291.9" stroke="#606060" stroke-width="0.55" />
<line x1="298.22" y1="306.3" x2="301.38" y2="306.3" stroke="#606060" stroke-width="0.55" />
<rect x="296.2" y="299.1" width="7.2" height="4.1" fill="#cf3a3c" stroke="#5a2424" stroke-width="0.5"/>
<line x1="296.2" y1="301.2" x2="303.4" y2="301.2" stroke="#4a1010" stroke-width="0.5" />
<line x1="299.8" y1="320.4" x2="299.8" y2="321.4" stroke="#333" stroke-width="0.5" />
<text x="300.2" y="324.4" font-size="2.9" text-anchor="end" font-weight="bold" font-style="normal" fill="#222" stroke="#222" stroke-width="0.1"  transform="rotate(-45 300.2 324.4)">Cluster 2</text>
<text x="338.4" y="275.5" font-size="3.7" text-anchor="middle" font-weight="bold" font-style="normal" fill="#111" stroke="#111" stroke-width="0.2" >SORL1</text>
<text x="316.68" y="302.15" font-size="3.45" text-anchor="middle" font-weight="normal" font-style="normal" fill="#333" stroke="#333" stroke-width="0.12"  transform="rotate(-90 316.68 302.15)">log<tspan font-size="2.45" dy="0.7">2</tspan><tspan dy="-0.7">(relative expression)</tspan></text>
<line x1="325.2" y1="281.2" x2="325.2" y2="320.7" stroke="#444" stroke-width="0.7" />
<line x1="325.2" y1="320.4" x2="352.4" y2="320.4" stroke="#666" stroke-width="0.8" />
<line x1="323.9" y1="281.5" x2="325.2" y2="281.5" stroke="#333" stroke-width="0.5" />
<text x="323.5" y="282.5" font-size="2.75" text-anchor="end" font-weight="bold" font-style="normal" fill="#222" stroke="#222" stroke-width="0.15" >2.0</text>
<line x1="323.9" y1="291.4" x2="325.2" y2="291.4" stroke="#333" stroke-width="0.5" />
<text x="323.5" y="292.4" font-size="2.75" text-anchor="end" font-weight="bold" font-style="normal" fill="#222" stroke="#222" stroke-width="0.15" >1.5</text>
<line x1="323.9" y1="301.2" x2="325.2" y2="301.2" stroke="#333" stroke-width="0.5" />
<text x="323.5" y="302.2" font-size="2.75" text-anchor="end" font-weight="bold" font-style="normal" fill="#222" stroke="#222" stroke-width="0.15" >1.0</text>
<line x1="323.9" y1="310.9" x2="325.2" y2="310.9" stroke="#333" stroke-width="0.5" />
<text x="323.5" y="311.9" font-size="2.75" text-anchor="end" font-weight="bold" font-style="normal" fill="#222" stroke="#222" stroke-width="0.15" >0.5</text>
<line x1="323.9" y1="320.4" x2="325.2" y2="320.4" stroke="#333" stroke-width="0.5" />
<text x="323.5" y="321.4" font-size="2.75" text-anchor="end" font-weight="bold" font-style="normal" fill="#222" stroke="#222" stroke-width="0.15" >0.0</text>
<polyline points="332.95,290.9 332.95,282.5 343.9,282.5 343.9,286.8" fill="none" stroke="#b0b0b0" stroke-width="0.5"/>
<text x="338.42" y="280.75" font-size="2.85" text-anchor="middle" font-weight="normal" font-style="italic" fill="#555" stroke="#555" stroke-width="0.08" >p = 0.0017</text>
<line x1="332.85" y1="292.9" x2="332.85" y2="298" stroke="#808080" stroke-width="0.5" />
<line x1="332.85" y1="301.8" x2="332.85" y2="307.4" stroke="#808080" stroke-width="0.5" />
<line x1="331.24" y1="292.9" x2="334.46" y2="292.9" stroke="#606060" stroke-width="0.55" />
<line x1="331.24" y1="307.4" x2="334.46" y2="307.4" stroke="#606060" stroke-width="0.55" />
<rect x="329.2" y="298" width="7.3" height="3.8" fill="#d2d2d2" stroke="#666" stroke-width="0.5"/>
<line x1="329.2" y1="299.7" x2="336.5" y2="299.7" stroke="#666" stroke-width="0.5" />
<line x1="332.85" y1="320.4" x2="332.85" y2="321.4" stroke="#333" stroke-width="0.5" />
<text x="333.25" y="324.4" font-size="2.9" text-anchor="end" font-weight="bold" font-style="normal" fill="#222" stroke="#222" stroke-width="0.1"  transform="rotate(-45 333.25 324.4)">Cluster 1</text>
<line x1="343.8" y1="288.8" x2="343.8" y2="292.9" stroke="#808080" stroke-width="0.5" />
<line x1="343.8" y1="301.8" x2="343.8" y2="304.9" stroke="#808080" stroke-width="0.5" />
<line x1="342.22" y1="288.8" x2="345.38" y2="288.8" stroke="#606060" stroke-width="0.55" />
<line x1="342.22" y1="304.9" x2="345.38" y2="304.9" stroke="#606060" stroke-width="0.55" />
<rect x="340.2" y="292.9" width="7.2" height="8.9" fill="#cf3a3c" stroke="#5a2424" stroke-width="0.5"/>
<line x1="340.2" y1="295" x2="347.4" y2="295" stroke="#4a1010" stroke-width="0.5" />
<line x1="343.8" y1="320.4" x2="343.8" y2="321.4" stroke="#333" stroke-width="0.5" />
<text x="344.2" y="324.4" font-size="2.9" text-anchor="end" font-weight="bold" font-style="normal" fill="#222" stroke="#222" stroke-width="0.1"  transform="rotate(-45 344.2 324.4)">Cluster 2</text>
<text x="381.9" y="275.5" font-size="3.7" text-anchor="middle" font-weight="bold" font-style="normal" fill="#111" stroke="#111" stroke-width="0.2" >RPS20</text>
<text x="362.07" y="302.15" font-size="3.45" text-anchor="middle" font-weight="normal" font-style="normal" fill="#333" stroke="#333" stroke-width="0.12"  transform="rotate(-90 362.07 302.15)">log<tspan font-size="2.45" dy="0.7">2</tspan><tspan dy="-0.7">(relative expression)</tspan></text>
<line x1="368.3" y1="281.2" x2="368.3" y2="320.7" stroke="#444" stroke-width="0.7" />
<line x1="368.3" y1="320.4" x2="396.3" y2="320.4" stroke="#666" stroke-width="0.8" />
<line x1="367" y1="281.5" x2="368.3" y2="281.5" stroke="#333" stroke-width="0.5" />
<text x="366.6" y="282.5" font-size="2.75" text-anchor="end" font-weight="bold" font-style="normal" fill="#222" stroke="#222" stroke-width="0.15" >8</text>
<line x1="367" y1="291.4" x2="368.3" y2="291.4" stroke="#333" stroke-width="0.5" />
<text x="366.6" y="292.4" font-size="2.75" text-anchor="end" font-weight="bold" font-style="normal" fill="#222" stroke="#222" stroke-width="0.15" >6</text>
<line x1="367" y1="301.2" x2="368.3" y2="301.2" stroke="#333" stroke-width="0.5" />
<text x="366.6" y="302.2" font-size="2.75" text-anchor="end" font-weight="bold" font-style="normal" fill="#222" stroke="#222" stroke-width="0.15" >4</text>
<line x1="367" y1="310.9" x2="368.3" y2="310.9" stroke="#333" stroke-width="0.5" />
<text x="366.6" y="311.9" font-size="2.75" text-anchor="end" font-weight="bold" font-style="normal" fill="#222" stroke="#222" stroke-width="0.15" >2</text>
<line x1="367" y1="320.4" x2="368.3" y2="320.4" stroke="#333" stroke-width="0.5" />
<text x="366.6" y="321.4" font-size="2.75" text-anchor="end" font-weight="bold" font-style="normal" fill="#222" stroke="#222" stroke-width="0.15" >0</text>
<polyline points="376.4,299.2 376.4,282.5 387.35,282.5 387.35,291.9" fill="none" stroke="#b0b0b0" stroke-width="0.5"/>
<text x="381.88" y="280.75" font-size="2.85" text-anchor="middle" font-weight="normal" font-style="italic" fill="#555" stroke="#555" stroke-width="0.08" >p = 0.0018</text>
<line x1="376.3" y1="301.2" x2="376.3" y2="306.9" stroke="#808080" stroke-width="0.5" />
<line x1="376.3" y1="309.4" x2="376.3" y2="315.6" stroke="#808080" stroke-width="0.5" />
<line x1="374.76" y1="301.2" x2="377.84" y2="301.2" stroke="#606060" stroke-width="0.55" />
<line x1="374.76" y1="315.6" x2="377.84" y2="315.6" stroke="#606060" stroke-width="0.55" />
<rect x="372.8" y="306.9" width="7" height="2.5" fill="#d2d2d2" stroke="#666" stroke-width="0.5"/>
<line x1="372.8" y1="308" x2="379.8" y2="308" stroke="#666" stroke-width="0.5" />
<line x1="376.3" y1="320.4" x2="376.3" y2="321.4" stroke="#333" stroke-width="0.5" />
<text x="376.7" y="324.4" font-size="2.9" text-anchor="end" font-weight="bold" font-style="normal" fill="#222" stroke="#222" stroke-width="0.1"  transform="rotate(-45 376.7 324.4)">Cluster 1</text>
<line x1="387.25" y1="293.9" x2="387.25" y2="305.3" stroke="#808080" stroke-width="0.5" />
<line x1="387.25" y1="308" x2="387.25" y2="311.5" stroke="#808080" stroke-width="0.5" />
<line x1="385.69" y1="293.9" x2="388.81" y2="293.9" stroke="#606060" stroke-width="0.55" />
<line x1="385.69" y1="311.5" x2="388.81" y2="311.5" stroke="#606060" stroke-width="0.55" />
<rect x="383.7" y="305.3" width="7.1" height="2.7" fill="#cf3a3c" stroke="#5a2424" stroke-width="0.5"/>
<line x1="383.7" y1="306.3" x2="390.8" y2="306.3" stroke="#4a1010" stroke-width="0.5" />
<line x1="387.25" y1="320.4" x2="387.25" y2="321.4" stroke="#333" stroke-width="0.5" />
<text x="387.65" y="324.4" font-size="2.9" text-anchor="end" font-weight="bold" font-style="normal" fill="#222" stroke="#222" stroke-width="0.1"  transform="rotate(-45 387.65 324.4)">Cluster 2</text>
<text x="426.4" y="275.5" font-size="3.7" text-anchor="middle" font-weight="bold" font-style="normal" fill="#111" stroke="#111" stroke-width="0.2" >E2F4</text>
<text x="403.76" y="302.15" font-size="3.45" text-anchor="middle" font-weight="normal" font-style="normal" fill="#333" stroke="#333" stroke-width="0.12"  transform="rotate(-90 403.76 302.15)">log<tspan font-size="2.45" dy="0.7">2</tspan><tspan dy="-0.7">(relative expression)</tspan></text>
<line x1="413.2" y1="281.2" x2="413.2" y2="320.7" stroke="#444" stroke-width="0.7" />
<line x1="413.2" y1="320.4" x2="439.5" y2="320.4" stroke="#666" stroke-width="0.8" />
<line x1="411.9" y1="281.5" x2="413.2" y2="281.5" stroke="#333" stroke-width="0.5" />
<text x="411.5" y="282.5" font-size="2.75" text-anchor="end" font-weight="bold" font-style="normal" fill="#222" stroke="#222" stroke-width="0.15" >0.6</text>
<line x1="411.9" y1="291.4" x2="413.2" y2="291.4" stroke="#333" stroke-width="0.5" />
<text x="411.5" y="292.4" font-size="2.75" text-anchor="end" font-weight="bold" font-style="normal" fill="#222" stroke="#222" stroke-width="0.15" >0.4</text>
<line x1="411.9" y1="301.2" x2="413.2" y2="301.2" stroke="#333" stroke-width="0.5" />
<text x="411.5" y="302.2" font-size="2.75" text-anchor="end" font-weight="bold" font-style="normal" fill="#222" stroke="#222" stroke-width="0.15" >0.2</text>
<line x1="411.9" y1="310.9" x2="413.2" y2="310.9" stroke="#333" stroke-width="0.5" />
<text x="411.5" y="311.9" font-size="2.75" text-anchor="end" font-weight="bold" font-style="normal" fill="#222" stroke="#222" stroke-width="0.15" >0.0</text>
<line x1="411.9" y1="320.4" x2="413.2" y2="320.4" stroke="#333" stroke-width="0.5" />
<text x="411.5" y="321.4" font-size="2.75" text-anchor="end" font-weight="bold" font-style="normal" fill="#222" stroke="#222" stroke-width="0.15" >-0.2</text>
<polyline points="420.5,285.5 420.5,282.5 432.05,282.5 432.05,285.5" fill="none" stroke="#b0b0b0" stroke-width="0.5"/>
<text x="426.27" y="280.75" font-size="3" text-anchor="middle" font-weight="normal" font-style="italic" fill="#555" stroke="#555" stroke-width="0.08" >ns</text>
<line x1="420.4" y1="285" x2="420.4" y2="288.8" stroke="#808080" stroke-width="0.5" />
<line x1="420.4" y1="302.2" x2="420.4" y2="314.2" stroke="#808080" stroke-width="0.5" />
<line x1="418.95" y1="285" x2="421.85" y2="285" stroke="#606060" stroke-width="0.55" />
<line x1="418.95" y1="314.2" x2="421.85" y2="314.2" stroke="#606060" stroke-width="0.55" />
<rect x="417.1" y="288.8" width="6.6" height="13.4" fill="#d2d2d2" stroke="#666" stroke-width="0.5"/>
<line x1="417.1" y1="291.9" x2="423.7" y2="291.9" stroke="#666" stroke-width="0.5" />
<line x1="420.4" y1="320.4" x2="420.4" y2="321.4" stroke="#333" stroke-width="0.5" />
<text x="420.8" y="324.4" font-size="2.9" text-anchor="end" font-weight="bold" font-style="normal" fill="#222" stroke="#222" stroke-width="0.1"  transform="rotate(-45 420.8 324.4)">Cluster 1</text>
<line x1="431.95" y1="285.7" x2="431.95" y2="294.3" stroke="#808080" stroke-width="0.5" />
<line x1="431.95" y1="305.9" x2="431.95" y2="312.1" stroke="#808080" stroke-width="0.5" />
<line x1="430.39" y1="285.7" x2="433.51" y2="285.7" stroke="#606060" stroke-width="0.55" />
<line x1="430.39" y1="312.1" x2="433.51" y2="312.1" stroke="#606060" stroke-width="0.55" />
<rect x="428.4" y="294.3" width="7.1" height="11.6" fill="#cf3a3c" stroke="#5a2424" stroke-width="0.5"/>
<line x1="428.4" y1="299.1" x2="435.5" y2="299.1" stroke="#4a1010" stroke-width="0.5" />
<line x1="431.95" y1="320.4" x2="431.95" y2="321.4" stroke="#333" stroke-width="0.5" />
<text x="432.35" y="324.4" font-size="2.9" text-anchor="end" font-weight="bold" font-style="normal" fill="#222" stroke="#222" stroke-width="0.1"  transform="rotate(-45 432.35 324.4)">Cluster 2</text>
<text x="55.3" y="153.1" font-size="4.9" text-anchor="middle" font-weight="bold" font-style="normal" fill="#111" stroke="#111" stroke-width="0.15" >Lumbar mSASSS</text>
<text x="33.4" y="189.35" font-size="3.4" text-anchor="middle" font-weight="bold" font-style="normal" fill="#222" stroke="#222" stroke-width="0.18"  transform="rotate(-90 33.4 189.35)">Score</text>
<line x1="42.5" y1="162.3" x2="42.5" y2="213.7" stroke="#222" stroke-width="0.7" />
<line x1="42.5" y1="213.4" x2="67.5" y2="213.4" stroke="#222" stroke-width="0.7" />
<line x1="41" y1="162.3" x2="42.5" y2="162.3" stroke="#222" stroke-width="0.5" />
<text x="40.5" y="163.5" font-size="3.4" text-anchor="end" font-weight="bold" font-style="normal" fill="#222" stroke="#222" stroke-width="0.27" >40</text>
<line x1="41" y1="175" x2="42.5" y2="175" stroke="#222" stroke-width="0.5" />
<text x="40.5" y="176.2" font-size="3.4" text-anchor="end" font-weight="bold" font-style="normal" fill="#222" stroke="#222" stroke-width="0.27" >30</text>
<line x1="41" y1="187.6" x2="42.5" y2="187.6" stroke="#222" stroke-width="0.5" />
<text x="40.5" y="188.8" font-size="3.4" text-anchor="end" font-weight="bold" font-style="normal" fill="#222" stroke="#222" stroke-width="0.27" >20</text>
<line x1="41" y1="200.5" x2="42.5" y2="200.5" stroke="#222" stroke-width="0.5" />
<text x="40.5" y="201.7" font-size="3.4" text-anchor="end" font-weight="bold" font-style="normal" fill="#222" stroke="#222" stroke-width="0.27" >10</text>
<line x1="41" y1="213.4" x2="42.5" y2="213.4" stroke="#222" stroke-width="0.5" />
<text x="40.5" y="214.6" font-size="3.4" text-anchor="end" font-weight="bold" font-style="normal" fill="#222" stroke="#222" stroke-width="0.27" >0</text>
<polyline points="49.8,184.7 49.8,161.3 60.2,161.3 60.2,166.6" fill="none" stroke="#666" stroke-width="0.6"/>
<text x="55" y="158" font-size="3.35" text-anchor="middle" font-weight="normal" font-style="italic" fill="#555" stroke="#555" stroke-width="0.08" >p = 0.0048</text>
<line x1="50.05" y1="187.5" x2="50.05" y2="202.2" stroke="#4a4a4a" stroke-width="0.6" />
<line x1="50.05" y1="210.3" x2="50.05" y2="213.3" stroke="#4a4a4a" stroke-width="0.6" />
<line x1="47.92" y1="187.5" x2="52.18" y2="187.5" stroke="#444" stroke-width="0.7" />
<rect x="46.5" y="202.2" width="7.1" height="8.1" fill="#d2d2d2" stroke="#666" stroke-width="0.55"/>
<line x1="46.5" y1="206" x2="53.6" y2="206" stroke="#666" stroke-width="0.6" />
<line x1="50.05" y1="213.4" x2="50.05" y2="214.6" stroke="#222" stroke-width="0.5" />
<text x="50.85" y="217.6" font-size="3.5" text-anchor="end" font-weight="bold" font-style="normal" fill="#222" stroke="#222" stroke-width="0.14"  transform="rotate(-45 50.85 217.6)">Cluster 1</text>
<line x1="60.45" y1="167" x2="60.45" y2="192.8" stroke="#4a4a4a" stroke-width="0.6" />
<line x1="60.45" y1="208.2" x2="60.45" y2="213" stroke="#4a4a4a" stroke-width="0.6" />
<line x1="58.5" y1="167" x2="62.4" y2="167" stroke="#444" stroke-width="0.7" />
<rect x="57.2" y="192.8" width="6.5" height="15.4" fill="#cf3a3c" stroke="#5a2424" stroke-width="0.55"/>
<line x1="57.2" y1="201.5" x2="63.7" y2="201.5" stroke="#5a1015" stroke-width="0.6" />
<line x1="60.45" y1="213.4" x2="60.45" y2="214.6" stroke="#222" stroke-width="0.5" />
<text x="61.25" y="217.6" font-size="3.5" text-anchor="end" font-weight="bold" font-style="normal" fill="#222" stroke="#222" stroke-width="0.14"  transform="rotate(-45 61.25 217.6)">Cluster 2</text>
<text x="115.5" y="153.1" font-size="4.9" text-anchor="middle" font-weight="bold" font-style="normal" fill="#111" stroke="#111" stroke-width="0.15" >Total mSASSS</text>
<text x="93" y="189" font-size="3.4" text-anchor="middle" font-weight="bold" font-style="normal" fill="#222" stroke="#222" stroke-width="0.18"  transform="rotate(-90 93 189)">Score</text>
<line x1="102.4" y1="161.3" x2="102.4" y2="214" stroke="#222" stroke-width="0.7" />
<line x1="102.4" y1="213.7" x2="128.4" y2="213.7" stroke="#222" stroke-width="0.7" />
<line x1="100.9" y1="161.3" x2="102.4" y2="161.3" stroke="#222" stroke-width="0.5" />
<text x="100.4" y="162.5" font-size="3.4" text-anchor="end" font-weight="bold" font-style="normal" fill="#222" stroke="#222" stroke-width="0.27" >80</text>
<line x1="100.9" y1="174.5" x2="102.4" y2="174.5" stroke="#222" stroke-width="0.5" />
<text x="100.4" y="175.7" font-size="3.4" text-anchor="end" font-weight="bold" font-style="normal" fill="#222" stroke="#222" stroke-width="0.27" >60</text>
<line x1="100.9" y1="188" x2="102.4" y2="188" stroke="#222" stroke-width="0.5" />
<text x="100.4" y="189.2" font-size="3.4" text-anchor="end" font-weight="bold" font-style="normal" fill="#222" stroke="#222" stroke-width="0.27" >40</text>
<line x1="100.9" y1="200.9" x2="102.4" y2="200.9" stroke="#222" stroke-width="0.5" />
<text x="100.4" y="202.1" font-size="3.4" text-anchor="end" font-weight="bold" font-style="normal" fill="#222" stroke="#222" stroke-width="0.27" >20</text>
<line x1="100.9" y1="213.7" x2="102.4" y2="213.7" stroke="#222" stroke-width="0.5" />
<text x="100.4" y="214.9" font-size="3.4" text-anchor="end" font-weight="bold" font-style="normal" fill="#222" stroke="#222" stroke-width="0.27" >0</text>
<polyline points="109.6,190 109.6,161 120.9,161 120.9,164.5" fill="none" stroke="#666" stroke-width="0.6"/>
<text x="115.25" y="157.7" font-size="3.35" text-anchor="middle" font-weight="normal" font-style="italic" fill="#555" stroke="#555" stroke-width="0.08" >p = 0.0002</text>
<line x1="110.1" y1="190.2" x2="110.1" y2="202.9" stroke="#4a4a4a" stroke-width="0.6" />
<line x1="110.1" y1="209.9" x2="110.1" y2="213.5" stroke="#4a4a4a" stroke-width="0.6" />
<line x1="107.76" y1="190.2" x2="112.44" y2="190.2" stroke="#444" stroke-width="0.7" />
<rect x="106.2" y="202.9" width="7.8" height="7" fill="#d2d2d2" stroke="#666" stroke-width="0.55"/>
<line x1="106.2" y1="206.5" x2="114" y2="206.5" stroke="#666" stroke-width="0.6" />
<line x1="110.1" y1="213.7" x2="110.1" y2="214.9" stroke="#222" stroke-width="0.5" />
<text x="110.9" y="217.9" font-size="3.5" text-anchor="end" font-weight="bold" font-style="normal" fill="#222" stroke="#222" stroke-width="0.14"  transform="rotate(-45 110.9 217.9)">Cluster 1</text>
<line x1="120.6" y1="166.7" x2="120.6" y2="194.2" stroke="#4a4a4a" stroke-width="0.6" />
<line x1="120.6" y1="208.9" x2="120.6" y2="213.5" stroke="#4a4a4a" stroke-width="0.6" />
<line x1="118.56" y1="166.7" x2="122.64" y2="166.7" stroke="#444" stroke-width="0.7" />
<rect x="117.2" y="194.2" width="6.8" height="14.7" fill="#cf3a3c" stroke="#5a2424" stroke-width="0.55"/>
<line x1="117.2" y1="203.2" x2="124" y2="203.2" stroke="#5a1015" stroke-width="0.6" />
<line x1="120.6" y1="213.7" x2="120.6" y2="214.9" stroke="#222" stroke-width="0.5" />
<text x="121.4" y="217.9" font-size="3.5" text-anchor="end" font-weight="bold" font-style="normal" fill="#222" stroke="#222" stroke-width="0.14"  transform="rotate(-45 121.4 217.9)">Cluster 2</text>
<text x="61" y="240.4" font-size="3.8" text-anchor="middle" font-weight="bold" font-style="normal" fill="#111" stroke="#111" stroke-width="0.1" >Inflammatory proteome</text>
<text x="61" y="244.8" font-size="3.75" text-anchor="middle" font-weight="normal" font-style="normal" fill="#222" stroke="#222" stroke-width="0.05" >Cluster 2 vs Cluster 1</text>
<rect x="18.7" y="247.3" width="85.2" height="76.1" fill="#fff" stroke="#333" stroke-width="0.5"/>
<line x1="103.9" y1="247.3" x2="103.9" y2="323.4" stroke="#aaa" stroke-width="1" />
<line x1="46.4" y1="247.3" x2="46.4" y2="323.4" stroke="#d8d8d8" stroke-width="0.4" stroke-dasharray="0.8 0.5"/>
<line x1="18.7" y1="280" x2="103.9" y2="280" stroke="#d8d8d8" stroke-width="0.4" stroke-dasharray="0.8 0.5"/>
<line x1="18.7" y1="294.9" x2="103.9" y2="294.9" stroke="#d8d8d8" stroke-width="0.4" stroke-dasharray="0.8 0.5"/>
<text x="19.9" y="252.6" font-size="3.35" text-anchor="start" font-weight="bold" font-style="normal" fill="#2a9a2a" stroke="#2a9a2a" stroke-width="0.27" >Downregulated</text>
<text x="102.2" y="252.6" font-size="3.3" text-anchor="end" font-weight="bold" font-style="normal" fill="#c0282d" stroke="#c0282d" stroke-width="0.26" >Upregulated</text>
<text x="101.7" y="278" font-size="2.4" text-anchor="end" font-weight="normal" font-style="normal" fill="#222" stroke="#222" stroke-width="0.19" >p-value &lt;0.01</text>
<text x="101.7" y="293.3" font-size="2.4" text-anchor="end" font-weight="normal" font-style="normal" fill="#222" stroke="#222" stroke-width="0.19" >p-value &lt;0.05</text>
<line x1="17.4" y1="258.4" x2="18.7" y2="258.4" stroke="#222" stroke-width="0.45" />
<text x="16.7" y="259.4" font-size="2.8" text-anchor="end" font-weight="bold" font-style="normal" fill="#222" stroke="#222" stroke-width="0.22" >3</text>
<line x1="17.4" y1="280" x2="18.7" y2="280" stroke="#222" stroke-width="0.45" />
<text x="16.7" y="281" font-size="2.8" text-anchor="end" font-weight="bold" font-style="normal" fill="#222" stroke="#222" stroke-width="0.22" >2</text>
<line x1="17.4" y1="301.7" x2="18.7" y2="301.7" stroke="#222" stroke-width="0.45" />
<text x="16.7" y="302.7" font-size="2.8" text-anchor="end" font-weight="bold" font-style="normal" fill="#222" stroke="#222" stroke-width="0.22" >1</text>
<line x1="17.4" y1="323.4" x2="18.7" y2="323.4" stroke="#222" stroke-width="0.45" />
<text x="16.7" y="324.4" font-size="2.8" text-anchor="end" font-weight="bold" font-style="normal" fill="#222" stroke="#222" stroke-width="0.22" >0</text>
<line x1="17.6" y1="323.4" x2="17.6" y2="324.6" stroke="#222" stroke-width="0.45" />
<text x="17.6" y="328.6" font-size="2.8" text-anchor="middle" font-weight="bold" font-style="normal" fill="#222" stroke="#222" stroke-width="0.22" >-0.5</text>
<line x1="46.4" y1="323.4" x2="46.4" y2="324.6" stroke="#222" stroke-width="0.45" />
<text x="46.4" y="328.6" font-size="2.8" text-anchor="middle" font-weight="bold" font-style="normal" fill="#222" stroke="#222" stroke-width="0.22" >0.0</text>
<line x1="74.5" y1="323.4" x2="74.5" y2="324.6" stroke="#222" stroke-width="0.45" />
<text x="74.5" y="328.6" font-size="2.8" text-anchor="middle" font-weight="bold" font-style="normal" fill="#222" stroke="#222" stroke-width="0.22" >0.5</text>
<line x1="102.7" y1="323.4" x2="102.7" y2="324.6" stroke="#222" stroke-width="0.45" />
<text x="102.7" y="328.6" font-size="2.8" text-anchor="middle" font-weight="bold" font-style="normal" fill="#222" stroke="#222" stroke-width="0.22" >1.0</text>
<text x="61" y="333.3" font-size="3.4" text-anchor="middle" font-weight="bold" font-style="normal" fill="#222" stroke="#222" stroke-width="0.27" >NPX (mean difference)</text>
<text x="10.4" y="282.5" font-size="4.3" text-anchor="middle" font-weight="bold" font-style="normal" fill="#222" stroke="#222" stroke-width="0.12"  transform="rotate(-90 10.4 282.5)">-log<tspan font-size="3.0" dy="0.9">10</tspan><tspan dy="-0.9"> (p-value)</tspan></text>
<circle cx="50.8" cy="299.9" r="0.95" fill="#111"/>
<circle cx="63.9" cy="300.3" r="0.95" fill="#111"/>
<circle cx="45.2" cy="303" r="0.95" fill="#111"/>
<circle cx="50.8" cy="302.4" r="0.95" fill="#111"/>
<circle cx="53.4" cy="302.2" r="0.95" fill="#111"/>
<circle cx="54.4" cy="302.7" r="0.95" fill="#111"/>
<circle cx="41.6" cy="307.8" r="0.95" fill="#111"/>
<circle cx="53.4" cy="307.1" r="0.95" fill="#111"/>
<circle cx="57.5" cy="306.8" r="0.95" fill="#111"/>
<circle cx="48.3" cy="308.3" r="0.95" fill="#111"/>
<circle cx="47.3" cy="309.8" r="0.95" fill="#111"/>
<circle cx="53.9" cy="308.8" r="0.95" fill="#111"/>
<circle cx="61.1" cy="309.8" r="0.95" fill="#111"/>
<circle cx="61.6" cy="310.8" r="0.95" fill="#111"/>
<circle cx="51.9" cy="310.8" r="0.95" fill="#111"/>
<circle cx="50.3" cy="311.9" r="0.95" fill="#111"/>
<circle cx="44.2" cy="312.9" r="0.95" fill="#111"/>
<circle cx="48.8" cy="312.9" r="0.95" fill="#111"/>
<circle cx="53.4" cy="313.4" r="0.95" fill="#111"/>
<circle cx="56" cy="313.2" r="0.95" fill="#111"/>
<circle cx="41.6" cy="314.9" r="0.95" fill="#111"/>
<circle cx="45.2" cy="314.9" r="0.95" fill="#111"/>
<circle cx="50.3" cy="314.9" r="0.95" fill="#111"/>
<circle cx="54.4" cy="314.9" r="0.95" fill="#111"/>
<circle cx="62.6" cy="316" r="0.95" fill="#111"/>
<circle cx="59" cy="317" r="0.95" fill="#111"/>
<circle cx="40.6" cy="319" r="0.95" fill="#111"/>
<circle cx="45.2" cy="318" r="0.95" fill="#111"/>
<circle cx="48.3" cy="318" r="0.95" fill="#111"/>
<circle cx="50.3" cy="318.5" r="0.95" fill="#111"/>
<circle cx="52.4" cy="319.5" r="0.95" fill="#111"/>
<circle cx="57" cy="319.2" r="0.95" fill="#111"/>
<circle cx="67.7" cy="319.8" r="0.95" fill="#111"/>
<circle cx="72.8" cy="318.5" r="0.95" fill="#111"/>
<circle cx="46.8" cy="320.6" r="0.95" fill="#111"/>
<circle cx="49.3" cy="320.6" r="0.95" fill="#111"/>
<circle cx="51.4" cy="321.6" r="0.95" fill="#111"/>
<circle cx="47.3" cy="322.1" r="0.95" fill="#111"/>
<circle cx="50.3" cy="322.6" r="0.95" fill="#111"/>
<circle cx="57" cy="321.8" r="0.95" fill="#111"/>
<circle cx="63.1" cy="321.4" r="0.95" fill="#111"/>
<circle cx="46.2" cy="322.6" r="0.95" fill="#111"/>
<circle cx="53.9" cy="322.1" r="0.95" fill="#111"/>
<circle cx="28.4" cy="309.8" r="0.95" fill="#111"/>
<circle cx="45.6" cy="303.5" r="0.95" fill="#111"/>
<circle cx="49.5" cy="306" r="0.95" fill="#111"/>
<circle cx="40.2" cy="320.5" r="0.95" fill="#111"/>
<circle cx="44.5" cy="321" r="0.95" fill="#111"/>
<circle cx="52.8" cy="316.5" r="0.95" fill="#111"/>
<circle cx="47.8" cy="316" r="0.95" fill="#111"/>
<circle cx="55.6" cy="318.5" r="0.95" fill="#111"/>
<circle cx="43.5" cy="317.2" r="0.95" fill="#111"/>
<circle cx="48.2" cy="304.5" r="0.95" fill="#111"/>
<circle cx="58.5" cy="312.2" r="0.95" fill="#111"/>
<circle cx="39.5" cy="315.8" r="0.95" fill="#111"/>
<circle cx="56.6" cy="260.8" r="1.05" fill="#cc1111"/>
<circle cx="64.4" cy="262.9" r="1.05" fill="#cc1111"/>
<circle cx="66.8" cy="268.1" r="1.05" fill="#cc1111"/>
<circle cx="59.1" cy="270.9" r="1.05" fill="#cc1111"/>
<circle cx="58.2" cy="274.1" r="1.05" fill="#cc1111"/>
<circle cx="78.9" cy="272.7" r="1.05" fill="#cc1111"/>
<circle cx="68.7" cy="274.3" r="1.05" fill="#cc1111"/>
<circle cx="80.9" cy="278.6" r="1.05" fill="#cc1111"/>
<circle cx="56.4" cy="279.8" r="1.05" fill="#cc1111"/>
<circle cx="71.2" cy="280.2" r="1.05" fill="#cc1111"/>
<circle cx="74.8" cy="280.1" r="1.05" fill="#cc1111"/>
<circle cx="61.5" cy="283.3" r="1.05" fill="#cc1111"/>
<circle cx="56.4" cy="284" r="1.05" fill="#cc1111"/>
<circle cx="69.1" cy="284.6" r="1.05" fill="#cc1111"/>
<circle cx="58.5" cy="285.1" r="1.05" fill="#cc1111"/>
<circle cx="55.3" cy="287.8" r="1.05" fill="#cc1111"/>
<circle cx="86.8" cy="287.7" r="1.05" fill="#cc1111"/>
<circle cx="100.1" cy="287" r="1.05" fill="#cc1111"/>
<circle cx="64.2" cy="289.6" r="1.05" fill="#cc1111"/>
<circle cx="72.1" cy="288.5" r="1.05" fill="#cc1111"/>
<circle cx="69.8" cy="289.2" r="1.05" fill="#cc1111"/>
<circle cx="64.8" cy="290.4" r="1.05" fill="#cc1111"/>
<circle cx="65.5" cy="291" r="1.05" fill="#cc1111"/>
<circle cx="57.5" cy="291.6" r="1.05" fill="#cc1111"/>
<circle cx="59.1" cy="293.7" r="1.05" fill="#cc1111"/>
<text x="55.7" y="258.5" font-size="2.7" text-anchor="middle" font-weight="normal" font-style="normal" fill="#333" stroke="#333" stroke-width="0.12" >1</text>
<text x="63.9" y="261" font-size="2.7" text-anchor="middle" font-weight="normal" font-style="normal" fill="#333" stroke="#333" stroke-width="0.12" >2</text>
<text x="69.8" y="266.5" font-size="2.7" text-anchor="middle" font-weight="normal" font-style="normal" fill="#333" stroke="#333" stroke-width="0.12" >3</text>
<text x="59.4" y="269.2" font-size="2.7" text-anchor="middle" font-weight="normal" font-style="normal" fill="#333" stroke="#333" stroke-width="0.12" >4</text>
<text x="56" y="273.9" font-size="2.7" text-anchor="middle" font-weight="normal" font-style="normal" fill="#333" stroke="#333" stroke-width="0.12" >5</text>
<text x="80" y="270.7" font-size="2.7" text-anchor="middle" font-weight="normal" font-style="normal" fill="#333" stroke="#333" stroke-width="0.12" >6</text>
<text x="71.2" y="273.5" font-size="2.7" text-anchor="middle" font-weight="normal" font-style="normal" fill="#333" stroke="#333" stroke-width="0.12" >7</text>
<text x="81.6" y="276.8" font-size="2.7" text-anchor="middle" font-weight="normal" font-style="normal" fill="#333" stroke="#333" stroke-width="0.12" >8</text>
<text x="58" y="278.9" font-size="2.7" text-anchor="middle" font-weight="normal" font-style="normal" fill="#333" stroke="#333" stroke-width="0.12" >9</text>
<text x="68.7" y="279.2" font-size="2.7" text-anchor="middle" font-weight="normal" font-style="normal" fill="#333" stroke="#333" stroke-width="0.12" >10</text>
<text x="74.8" y="278.7" font-size="2.7" text-anchor="middle" font-weight="normal" font-style="normal" fill="#333" stroke="#333" stroke-width="0.12" >11</text>
<text x="63.9" y="282.5" font-size="2.7" text-anchor="middle" font-weight="normal" font-style="normal" fill="#333" stroke="#333" stroke-width="0.12" >12</text>
<text x="53.6" y="283.5" font-size="2.7" text-anchor="middle" font-weight="normal" font-style="normal" fill="#333" stroke="#333" stroke-width="0.12" >13</text>
<text x="72.1" y="285" font-size="2.7" text-anchor="middle" font-weight="normal" font-style="normal" fill="#333" stroke="#333" stroke-width="0.12" >14</text>
<text x="61.5" y="287.8" font-size="2.7" text-anchor="middle" font-weight="normal" font-style="normal" fill="#333" stroke="#333" stroke-width="0.12" >15</text>
<text x="52.1" y="287.7" font-size="2.7" text-anchor="middle" font-weight="normal" font-style="normal" fill="#333" stroke="#333" stroke-width="0.12" >16</text>
<text x="86.6" y="285.7" font-size="2.7" text-anchor="middle" font-weight="normal" font-style="normal" fill="#333" stroke="#333" stroke-width="0.12" >17</text>
<text x="99.9" y="285.1" font-size="2.7" text-anchor="middle" font-weight="normal" font-style="normal" fill="#333" stroke="#333" stroke-width="0.12" >18</text>
<text x="66.6" y="288" font-size="2.7" text-anchor="middle" font-weight="normal" font-style="normal" fill="#333" stroke="#333" stroke-width="0.12" >19</text>
<text x="75.1" y="289.5" font-size="2.7" text-anchor="middle" font-weight="normal" font-style="normal" fill="#333" stroke="#333" stroke-width="0.12" >20</text>
<text x="70.5" y="293.3" font-size="2.7" text-anchor="middle" font-weight="normal" font-style="normal" fill="#333" stroke="#333" stroke-width="0.12" >21</text>
<text x="61.6" y="292.6" font-size="2.7" text-anchor="middle" font-weight="normal" font-style="normal" fill="#333" stroke="#333" stroke-width="0.12" >22</text>
<text x="65.7" y="294" font-size="2.7" text-anchor="middle" font-weight="normal" font-style="normal" fill="#333" stroke="#333" stroke-width="0.12" >23</text>
<text x="54.4" y="293.3" font-size="2.7" text-anchor="middle" font-weight="normal" font-style="normal" fill="#333" stroke="#333" stroke-width="0.12" >24</text>
<text x="58.9" y="298.1" font-size="2.7" text-anchor="middle" font-weight="normal" font-style="normal" fill="#333" stroke="#333" stroke-width="0.12" >25</text>
<circle cx="39.7" cy="294.5" r="1.05" fill="#28a028"/>
<text x="38.5" y="293.3" font-size="2.7" text-anchor="middle" font-weight="normal" font-style="normal" fill="#333" stroke="#333" stroke-width="0.12" >26</text>
<text x="106.4" y="251.1" font-size="3.3" text-anchor="start" font-weight="bold" font-style="normal" fill="#111" stroke="#111" stroke-width="0.26" >Protein rankings based on <tspan font-style="italic">p</tspan> values</text>
<text x="119.4" y="258" font-size="2.8" text-anchor="middle" font-weight="normal" font-style="italic" fill="#222" stroke="#222" stroke-width="0.05" ><tspan font-style="italic">p</tspan> value &lt;0.01</text>
<text x="150.6" y="258" font-size="2.8" text-anchor="middle" font-weight="normal" font-style="italic" fill="#222" stroke="#222" stroke-width="0.05" ><tspan font-style="italic">p</tspan> value &lt;0.05</text>
<rect x="108.7" y="260.4" width="26.3" height="40.6" fill="#fff" stroke="#333" stroke-width="0.5"/>
<rect x="139.2" y="260.4" width="22.8" height="64" fill="#fff" stroke="#333" stroke-width="0.5"/>
<text x="109.8" y="264" font-size="2.95" text-anchor="start" font-weight="normal" font-style="normal" fill="#1a1a1a" stroke="#1a1a1a" stroke-width="0.1" ><tspan font-weight="bold">1-</tspan> CSF-1</text>
<text x="109.8" y="267.92" font-size="2.95" text-anchor="start" font-weight="normal" font-style="normal" fill="#1a1a1a" stroke="#1a1a1a" stroke-width="0.1" ><tspan font-weight="bold">2-</tspan> LAP-TGF-β1</text>
<text x="109.8" y="271.84" font-size="2.95" text-anchor="start" font-weight="normal" font-style="normal" fill="#1a1a1a" stroke="#1a1a1a" stroke-width="0.1" ><tspan font-weight="bold">3-</tspan> CCL-28</text>
<text x="109.8" y="275.76" font-size="2.95" text-anchor="start" font-weight="normal" font-style="normal" fill="#1a1a1a" stroke="#1a1a1a" stroke-width="0.1" ><tspan font-weight="bold">4-</tspan> LIF</text>
<text x="109.8" y="279.68" font-size="2.95" text-anchor="start" font-weight="normal" font-style="normal" fill="#1a1a1a" stroke="#1a1a1a" stroke-width="0.1" ><tspan font-weight="bold">5-</tspan> SIRT-2</text>
<text x="109.8" y="283.6" font-size="2.95" text-anchor="start" font-weight="normal" font-style="normal" fill="#1a1a1a" stroke="#1a1a1a" stroke-width="0.1" ><tspan font-weight="bold">6-</tspan> IL-7</text>
<text x="109.8" y="287.52" font-size="2.95" text-anchor="start" font-weight="normal" font-style="normal" fill="#1a1a1a" stroke="#1a1a1a" stroke-width="0.1" ><tspan font-weight="bold">7-</tspan> IL-22RA1</text>
<text x="109.8" y="291.44" font-size="2.95" text-anchor="start" font-weight="normal" font-style="normal" fill="#1a1a1a" stroke="#1a1a1a" stroke-width="0.1" ><tspan font-weight="bold">8-</tspan> CD-6A</text>
<text x="109.8" y="295.36" font-size="2.95" text-anchor="start" font-weight="normal" font-style="normal" fill="#1a1a1a" stroke="#1a1a1a" stroke-width="0.1" ><tspan font-weight="bold">9-</tspan> DNER</text>
<text x="109.8" y="299.28" font-size="2.95" text-anchor="start" font-weight="normal" font-style="normal" fill="#1a1a1a" stroke="#1a1a1a" stroke-width="0.1" ><tspan font-weight="bold">10-</tspan> CCL-19</text>
<text x="140.2" y="264" font-size="2.95" text-anchor="start" font-weight="normal" font-style="normal" fill="#1a1a1a" stroke="#1a1a1a" stroke-width="0.1" ><tspan font-weight="bold">11-</tspan> CCL-25</text>
<text x="140.2" y="267.92" font-size="2.95" text-anchor="start" font-weight="normal" font-style="normal" fill="#1a1a1a" stroke="#1a1a1a" stroke-width="0.1" ><tspan font-weight="bold">12-</tspan> FLT-3L</text>
<text x="140.2" y="271.84" font-size="2.95" text-anchor="start" font-weight="normal" font-style="normal" fill="#1a1a1a" stroke="#1a1a1a" stroke-width="0.1" ><tspan font-weight="bold">13-</tspan> GDNF</text>
<text x="140.2" y="275.76" font-size="2.95" text-anchor="start" font-weight="normal" font-style="normal" fill="#1a1a1a" stroke="#1a1a1a" stroke-width="0.1" ><tspan font-weight="bold">14-</tspan> CXCL-6</text>
<text x="140.2" y="279.68" font-size="2.95" text-anchor="start" font-weight="normal" font-style="normal" fill="#1a1a1a" stroke="#1a1a1a" stroke-width="0.1" ><tspan font-weight="bold">15-</tspan> SLAMF-1</text>
<text x="140.2" y="283.6" font-size="2.95" text-anchor="start" font-weight="normal" font-style="normal" fill="#1a1a1a" stroke="#1a1a1a" stroke-width="0.1" ><tspan font-weight="bold">16-</tspan> CCL-3</text>
<text x="140.2" y="287.52" font-size="2.95" text-anchor="start" font-weight="normal" font-style="normal" fill="#1a1a1a" stroke="#1a1a1a" stroke-width="0.1" ><tspan font-weight="bold">17-</tspan> IL-6</text>
<text x="140.2" y="291.44" font-size="2.95" text-anchor="start" font-weight="normal" font-style="normal" fill="#1a1a1a" stroke="#1a1a1a" stroke-width="0.1" ><tspan font-weight="bold">18-</tspan> UPA</text>
<text x="140.2" y="295.36" font-size="2.95" text-anchor="start" font-weight="normal" font-style="normal" fill="#1a1a1a" stroke="#1a1a1a" stroke-width="0.1" ><tspan font-weight="bold">19-</tspan> IL-5</text>
<text x="140.2" y="299.28" font-size="2.95" text-anchor="start" font-weight="normal" font-style="normal" fill="#1a1a1a" stroke="#1a1a1a" stroke-width="0.1" ><tspan font-weight="bold">20-</tspan> TNF-α</text>
<text x="140.2" y="303.2" font-size="2.95" text-anchor="start" font-weight="normal" font-style="normal" fill="#1a1a1a" stroke="#1a1a1a" stroke-width="0.1" ><tspan font-weight="bold">21-</tspan> CXCL-5</text>
<text x="140.2" y="307.12" font-size="2.95" text-anchor="start" font-weight="normal" font-style="normal" fill="#1a1a1a" stroke="#1a1a1a" stroke-width="0.1" ><tspan font-weight="bold">22-</tspan> CXCL-1</text>
<text x="140.2" y="311.04" font-size="2.95" text-anchor="start" font-weight="normal" font-style="normal" fill="#1a1a1a" stroke="#1a1a1a" stroke-width="0.1" ><tspan font-weight="bold">23-</tspan> VEGF-A</text>
<text x="140.2" y="314.96" font-size="2.95" text-anchor="start" font-weight="normal" font-style="normal" fill="#1a1a1a" stroke="#1a1a1a" stroke-width="0.1" ><tspan font-weight="bold">24-</tspan> OPG</text>
<text x="140.2" y="318.88" font-size="2.95" text-anchor="start" font-weight="normal" font-style="normal" fill="#1a1a1a" stroke="#1a1a1a" stroke-width="0.1" ><tspan font-weight="bold">25-</tspan> MTFN</text>
<text x="140.2" y="322.8" font-size="2.95" text-anchor="start" font-weight="normal" font-style="normal" fill="#1a1a1a" stroke="#1a1a1a" stroke-width="0.1" ><tspan font-weight="bold">26-</tspan> SCF</text>
</svg>
</body></html>
